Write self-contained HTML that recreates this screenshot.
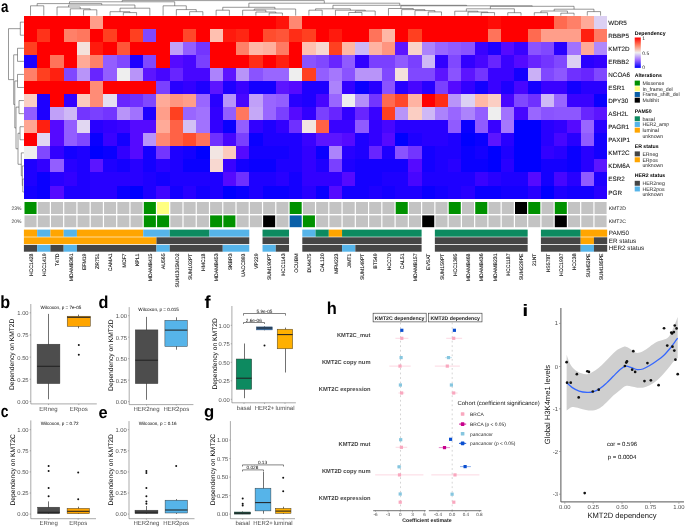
<!DOCTYPE html>
<html lang="en"><head><meta charset="utf-8"><title>Figure</title>
<style>html,body{margin:0;padding:0;background:#fff}body{width:685px;height:527px;overflow:hidden;font-family:"Liberation Sans",sans-serif}svg{display:block}</style>
</head><body>
<svg width="685" height="527" viewBox="0 0 685 527" font-family="'Liberation Sans', sans-serif" text-rendering="geometricPrecision">
<g shape-rendering="crispEdges">
<rect x="23.9" y="15.6" width="13.26" height="13.07" fill="#ff0000" />
<rect x="37.16" y="15.6" width="13.26" height="13.07" fill="#ff0000" />
<rect x="50.41" y="15.6" width="13.26" height="13.07" fill="#ff0000" />
<rect x="63.67" y="15.6" width="13.26" height="13.07" fill="#ff0000" />
<rect x="76.93" y="15.6" width="13.26" height="13.07" fill="#ff0000" />
<rect x="90.18" y="15.6" width="13.26" height="13.07" fill="#ff9e8a" />
<rect x="103.44" y="15.6" width="13.26" height="13.07" fill="#ff0000" />
<rect x="116.7" y="15.6" width="13.26" height="13.07" fill="#ff0000" />
<rect x="129.95" y="15.6" width="13.26" height="13.07" fill="#ff0000" />
<rect x="143.21" y="15.6" width="13.26" height="13.07" fill="#ff0000" />
<rect x="156.47" y="15.6" width="13.26" height="13.07" fill="#ff0000" />
<rect x="169.73" y="15.6" width="13.26" height="13.07" fill="#ff0000" />
<rect x="182.98" y="15.6" width="13.26" height="13.07" fill="#ff0000" />
<rect x="196.24" y="15.6" width="13.26" height="13.07" fill="#ff0000" />
<rect x="209.5" y="15.6" width="13.26" height="13.07" fill="#ff0000" />
<rect x="222.75" y="15.6" width="13.26" height="13.07" fill="#ff0000" />
<rect x="236.01" y="15.6" width="13.26" height="13.07" fill="#ff0000" />
<rect x="249.27" y="15.6" width="13.26" height="13.07" fill="#ff0000" />
<rect x="262.52" y="15.6" width="13.26" height="13.07" fill="#ff0000" />
<rect x="275.78" y="15.6" width="13.26" height="13.07" fill="#ff130a" />
<rect x="289.04" y="15.6" width="13.26" height="13.07" fill="#ff8872" />
<rect x="302.29" y="15.6" width="13.26" height="13.07" fill="#ff0000" />
<rect x="315.55" y="15.6" width="13.26" height="13.07" fill="#ff0000" />
<rect x="328.81" y="15.6" width="13.26" height="13.07" fill="#ff0000" />
<rect x="342.06" y="15.6" width="13.26" height="13.07" fill="#ff0000" />
<rect x="355.32" y="15.6" width="13.26" height="13.07" fill="#ff0000" />
<rect x="368.58" y="15.6" width="13.26" height="13.07" fill="#ff0000" />
<rect x="381.83" y="15.6" width="13.26" height="13.07" fill="#ff0000" />
<rect x="395.09" y="15.6" width="13.26" height="13.07" fill="#ff0000" />
<rect x="408.35" y="15.6" width="13.26" height="13.07" fill="#ff0000" />
<rect x="421.6" y="15.6" width="13.26" height="13.07" fill="#ff0000" />
<rect x="434.86" y="15.6" width="13.26" height="13.07" fill="#ff0000" />
<rect x="448.12" y="15.6" width="13.26" height="13.07" fill="#ff0000" />
<rect x="461.38" y="15.6" width="13.26" height="13.07" fill="#ff0000" />
<rect x="474.63" y="15.6" width="13.26" height="13.07" fill="#ff0000" />
<rect x="487.89" y="15.6" width="13.26" height="13.07" fill="#ff0d06" />
<rect x="501.15" y="15.6" width="13.26" height="13.07" fill="#ff0000" />
<rect x="514.4" y="15.6" width="13.26" height="13.07" fill="#ff0000" />
<rect x="527.66" y="15.6" width="13.26" height="13.07" fill="#ff0000" />
<rect x="540.92" y="15.6" width="13.26" height="13.07" fill="#ff0000" />
<rect x="554.17" y="15.6" width="13.26" height="13.07" fill="#ff6a50" />
<rect x="567.43" y="15.6" width="13.26" height="13.07" fill="#ff8068" />
<rect x="580.69" y="15.6" width="13.26" height="13.07" fill="#ffaa98" />
<rect x="593.94" y="15.6" width="13.26" height="13.07" fill="#dcd0f3" />
<rect x="23.9" y="28.67" width="13.26" height="13.07" fill="#ff0000" />
<rect x="37.16" y="28.67" width="13.26" height="13.07" fill="#ff331a" />
<rect x="50.41" y="28.67" width="13.26" height="13.07" fill="#ff0000" />
<rect x="63.67" y="28.67" width="13.26" height="13.07" fill="#ff8068" />
<rect x="76.93" y="28.67" width="13.26" height="13.07" fill="#ff775e" />
<rect x="90.18" y="28.67" width="13.26" height="13.07" fill="#ff0000" />
<rect x="103.44" y="28.67" width="13.26" height="13.07" fill="#ff4020" />
<rect x="116.7" y="28.67" width="13.26" height="13.07" fill="#ff0000" />
<rect x="129.95" y="28.67" width="13.26" height="13.07" fill="#ff4020" />
<rect x="143.21" y="28.67" width="13.26" height="13.07" fill="#8048ff" />
<rect x="156.47" y="28.67" width="13.26" height="13.07" fill="#ff0000" />
<rect x="169.73" y="28.67" width="13.26" height="13.07" fill="#ff0000" />
<rect x="182.98" y="28.67" width="13.26" height="13.07" fill="#ff482a" />
<rect x="196.24" y="28.67" width="13.26" height="13.07" fill="#ff0000" />
<rect x="209.5" y="28.67" width="13.26" height="13.07" fill="#ffc0b0" />
<rect x="222.75" y="28.67" width="13.26" height="13.07" fill="#ff1a0d" />
<rect x="236.01" y="28.67" width="13.26" height="13.07" fill="#ff2613" />
<rect x="249.27" y="28.67" width="13.26" height="13.07" fill="#ff0000" />
<rect x="262.52" y="28.67" width="13.26" height="13.07" fill="#ff4d2e" />
<rect x="275.78" y="28.67" width="13.26" height="13.07" fill="#ff5538" />
<rect x="289.04" y="28.67" width="13.26" height="13.07" fill="#ff2d16" />
<rect x="302.29" y="28.67" width="13.26" height="13.07" fill="#ff4020" />
<rect x="315.55" y="28.67" width="13.26" height="13.07" fill="#ff0000" />
<rect x="328.81" y="28.67" width="13.26" height="13.07" fill="#ff1a0d" />
<rect x="342.06" y="28.67" width="13.26" height="13.07" fill="#ff0000" />
<rect x="355.32" y="28.67" width="13.26" height="13.07" fill="#ff0000" />
<rect x="368.58" y="28.67" width="13.26" height="13.07" fill="#ff735a" />
<rect x="381.83" y="28.67" width="13.26" height="13.07" fill="#ffb7a6" />
<rect x="395.09" y="28.67" width="13.26" height="13.07" fill="#ff0000" />
<rect x="408.35" y="28.67" width="13.26" height="13.07" fill="#ff4020" />
<rect x="421.6" y="28.67" width="13.26" height="13.07" fill="#ff0000" />
<rect x="434.86" y="28.67" width="13.26" height="13.07" fill="#ff0000" />
<rect x="448.12" y="28.67" width="13.26" height="13.07" fill="#ff0000" />
<rect x="461.38" y="28.67" width="13.26" height="13.07" fill="#ff0000" />
<rect x="474.63" y="28.67" width="13.26" height="13.07" fill="#ff0000" />
<rect x="487.89" y="28.67" width="13.26" height="13.07" fill="#ff735a" />
<rect x="501.15" y="28.67" width="13.26" height="13.07" fill="#ff0000" />
<rect x="514.4" y="28.67" width="13.26" height="13.07" fill="#ff0000" />
<rect x="527.66" y="28.67" width="13.26" height="13.07" fill="#ff6a50" />
<rect x="540.92" y="28.67" width="13.26" height="13.07" fill="#ff9e8a" />
<rect x="554.17" y="28.67" width="13.26" height="13.07" fill="#ff9e8a" />
<rect x="567.43" y="28.67" width="13.26" height="13.07" fill="#ff9e8a" />
<rect x="580.69" y="28.67" width="13.26" height="13.07" fill="#ff2010" />
<rect x="593.94" y="28.67" width="13.26" height="13.07" fill="#ff7b63" />
<rect x="23.9" y="41.74" width="13.26" height="13.07" fill="#ff4020" />
<rect x="37.16" y="41.74" width="13.26" height="13.07" fill="#ff0000" />
<rect x="50.41" y="41.74" width="13.26" height="13.07" fill="#ff0000" />
<rect x="63.67" y="41.74" width="13.26" height="13.07" fill="#ff0000" />
<rect x="76.93" y="41.74" width="13.26" height="13.07" fill="#f4e1dc" />
<rect x="90.18" y="41.74" width="13.26" height="13.07" fill="#ff1a0d" />
<rect x="103.44" y="41.74" width="13.26" height="13.07" fill="#ff0000" />
<rect x="116.7" y="41.74" width="13.26" height="13.07" fill="#ff5538" />
<rect x="129.95" y="41.74" width="13.26" height="13.07" fill="#ff0000" />
<rect x="143.21" y="41.74" width="13.26" height="13.07" fill="#ff0000" />
<rect x="156.47" y="41.74" width="13.26" height="13.07" fill="#ff0000" />
<rect x="169.73" y="41.74" width="13.26" height="13.07" fill="#c0a0f8" />
<rect x="182.98" y="41.74" width="13.26" height="13.07" fill="#935eff" />
<rect x="196.24" y="41.74" width="13.26" height="13.07" fill="#7335ff" />
<rect x="209.5" y="41.74" width="13.26" height="13.07" fill="#ff0000" />
<rect x="222.75" y="41.74" width="13.26" height="13.07" fill="#ff0000" />
<rect x="236.01" y="41.74" width="13.26" height="13.07" fill="#ff8068" />
<rect x="249.27" y="41.74" width="13.26" height="13.07" fill="#ffb7a6" />
<rect x="262.52" y="41.74" width="13.26" height="13.07" fill="#ffaf9d" />
<rect x="275.78" y="41.74" width="13.26" height="13.07" fill="#ff7b63" />
<rect x="289.04" y="41.74" width="13.26" height="13.07" fill="#ff0000" />
<rect x="302.29" y="41.74" width="13.26" height="13.07" fill="#ffc0b0" />
<rect x="315.55" y="41.74" width="13.26" height="13.07" fill="#f8d8d0" />
<rect x="328.81" y="41.74" width="13.26" height="13.07" fill="#ff4020" />
<rect x="342.06" y="41.74" width="13.26" height="13.07" fill="#ffb7a6" />
<rect x="355.32" y="41.74" width="13.26" height="13.07" fill="#ceb8f6" />
<rect x="368.58" y="41.74" width="13.26" height="13.07" fill="#ffb3a2" />
<rect x="381.83" y="41.74" width="13.26" height="13.07" fill="#ff9580" />
<rect x="395.09" y="41.74" width="13.26" height="13.07" fill="#5c15ff" />
<rect x="408.35" y="41.74" width="13.26" height="13.07" fill="#f9d3ca" />
<rect x="421.6" y="41.74" width="13.26" height="13.07" fill="#ac83fc" />
<rect x="434.86" y="41.74" width="13.26" height="13.07" fill="#9966ff" />
<rect x="448.12" y="41.74" width="13.26" height="13.07" fill="#905bff" />
<rect x="461.38" y="41.74" width="13.26" height="13.07" fill="#8a53ff" />
<rect x="474.63" y="41.74" width="13.26" height="13.07" fill="#3902ff" />
<rect x="487.89" y="41.74" width="13.26" height="13.07" fill="#1e00ff" />
<rect x="501.15" y="41.74" width="13.26" height="13.07" fill="#550aff" />
<rect x="514.4" y="41.74" width="13.26" height="13.07" fill="#3902ff" />
<rect x="527.66" y="41.74" width="13.26" height="13.07" fill="#8a53ff" />
<rect x="540.92" y="41.74" width="13.26" height="13.07" fill="#8048ff" />
<rect x="554.17" y="41.74" width="13.26" height="13.07" fill="#2800ff" />
<rect x="567.43" y="41.74" width="13.26" height="13.07" fill="#a172fe" />
<rect x="580.69" y="41.74" width="13.26" height="13.07" fill="#ffaa98" />
<rect x="593.94" y="41.74" width="13.26" height="13.07" fill="#b089fb" />
<rect x="23.9" y="54.81" width="13.26" height="13.07" fill="#1e00ff" />
<rect x="37.16" y="54.81" width="13.26" height="13.07" fill="#ff0000" />
<rect x="50.41" y="54.81" width="13.26" height="13.07" fill="#ff735a" />
<rect x="63.67" y="54.81" width="13.26" height="13.07" fill="#ff0000" />
<rect x="76.93" y="54.81" width="13.26" height="13.07" fill="#ffaa98" />
<rect x="90.18" y="54.81" width="13.26" height="13.07" fill="#ff8068" />
<rect x="103.44" y="54.81" width="13.26" height="13.07" fill="#935eff" />
<rect x="116.7" y="54.81" width="13.26" height="13.07" fill="#8048ff" />
<rect x="129.95" y="54.81" width="13.26" height="13.07" fill="#1e00ff" />
<rect x="143.21" y="54.81" width="13.26" height="13.07" fill="#8048ff" />
<rect x="156.47" y="54.81" width="13.26" height="13.07" fill="#ff0000" />
<rect x="169.73" y="54.81" width="13.26" height="13.07" fill="#550aff" />
<rect x="182.98" y="54.81" width="13.26" height="13.07" fill="#4706ff" />
<rect x="196.24" y="54.81" width="13.26" height="13.07" fill="#7a40ff" />
<rect x="209.5" y="54.81" width="13.26" height="13.07" fill="#ff0000" />
<rect x="222.75" y="54.81" width="13.26" height="13.07" fill="#ff0000" />
<rect x="236.01" y="54.81" width="13.26" height="13.07" fill="#ff0000" />
<rect x="249.27" y="54.81" width="13.26" height="13.07" fill="#ff2d16" />
<rect x="262.52" y="54.81" width="13.26" height="13.07" fill="#ff0000" />
<rect x="275.78" y="54.81" width="13.26" height="13.07" fill="#ff2010" />
<rect x="289.04" y="54.81" width="13.26" height="13.07" fill="#ff0000" />
<rect x="302.29" y="54.81" width="13.26" height="13.07" fill="#8a53ff" />
<rect x="315.55" y="54.81" width="13.26" height="13.07" fill="#8048ff" />
<rect x="328.81" y="54.81" width="13.26" height="13.07" fill="#6825ff" />
<rect x="342.06" y="54.81" width="13.26" height="13.07" fill="#905bff" />
<rect x="355.32" y="54.81" width="13.26" height="13.07" fill="#3200ff" />
<rect x="368.58" y="54.81" width="13.26" height="13.07" fill="#7a40ff" />
<rect x="381.83" y="54.81" width="13.26" height="13.07" fill="#7a40ff" />
<rect x="395.09" y="54.81" width="13.26" height="13.07" fill="#905bff" />
<rect x="408.35" y="54.81" width="13.26" height="13.07" fill="#7a40ff" />
<rect x="421.6" y="54.81" width="13.26" height="13.07" fill="#ceb8f6" />
<rect x="434.86" y="54.81" width="13.26" height="13.07" fill="#3200ff" />
<rect x="448.12" y="54.81" width="13.26" height="13.07" fill="#8048ff" />
<rect x="461.38" y="54.81" width="13.26" height="13.07" fill="#3200ff" />
<rect x="474.63" y="54.81" width="13.26" height="13.07" fill="#4706ff" />
<rect x="487.89" y="54.81" width="13.26" height="13.07" fill="#6825ff" />
<rect x="501.15" y="54.81" width="13.26" height="13.07" fill="#3902ff" />
<rect x="514.4" y="54.81" width="13.26" height="13.07" fill="#550aff" />
<rect x="527.66" y="54.81" width="13.26" height="13.07" fill="#6825ff" />
<rect x="540.92" y="54.81" width="13.26" height="13.07" fill="#7335ff" />
<rect x="554.17" y="54.81" width="13.26" height="13.07" fill="#8048ff" />
<rect x="567.43" y="54.81" width="13.26" height="13.07" fill="#dcd0f3" />
<rect x="580.69" y="54.81" width="13.26" height="13.07" fill="#2800ff" />
<rect x="593.94" y="54.81" width="13.26" height="13.07" fill="#3200ff" />
<rect x="23.9" y="67.89" width="13.26" height="13.07" fill="#ff8068" />
<rect x="37.16" y="67.89" width="13.26" height="13.07" fill="#ff4020" />
<rect x="50.41" y="67.89" width="13.26" height="13.07" fill="#ff2010" />
<rect x="63.67" y="67.89" width="13.26" height="13.07" fill="#8048ff" />
<rect x="76.93" y="67.89" width="13.26" height="13.07" fill="#b894f9" />
<rect x="90.18" y="67.89" width="13.26" height="13.07" fill="#6825ff" />
<rect x="103.44" y="67.89" width="13.26" height="13.07" fill="#935eff" />
<rect x="116.7" y="67.89" width="13.26" height="13.07" fill="#eeeeee" />
<rect x="129.95" y="67.89" width="13.26" height="13.07" fill="#b894f9" />
<rect x="143.21" y="67.89" width="13.26" height="13.07" fill="#5c15ff" />
<rect x="156.47" y="67.89" width="13.26" height="13.07" fill="#4706ff" />
<rect x="169.73" y="67.89" width="13.26" height="13.07" fill="#6825ff" />
<rect x="182.98" y="67.89" width="13.26" height="13.07" fill="#4706ff" />
<rect x="196.24" y="67.89" width="13.26" height="13.07" fill="#4706ff" />
<rect x="209.5" y="67.89" width="13.26" height="13.07" fill="#ac83fc" />
<rect x="222.75" y="67.89" width="13.26" height="13.07" fill="#5c15ff" />
<rect x="236.01" y="67.89" width="13.26" height="13.07" fill="#b894f9" />
<rect x="249.27" y="67.89" width="13.26" height="13.07" fill="#8a53ff" />
<rect x="262.52" y="67.89" width="13.26" height="13.07" fill="#9966ff" />
<rect x="275.78" y="67.89" width="13.26" height="13.07" fill="#9966ff" />
<rect x="289.04" y="67.89" width="13.26" height="13.07" fill="#eeeeee" />
<rect x="302.29" y="67.89" width="13.26" height="13.07" fill="#ff4020" />
<rect x="315.55" y="67.89" width="13.26" height="13.07" fill="#935eff" />
<rect x="328.81" y="67.89" width="13.26" height="13.07" fill="#a577fd" />
<rect x="342.06" y="67.89" width="13.26" height="13.07" fill="#8a53ff" />
<rect x="355.32" y="67.89" width="13.26" height="13.07" fill="#b894f9" />
<rect x="368.58" y="67.89" width="13.26" height="13.07" fill="#b894f9" />
<rect x="381.83" y="67.89" width="13.26" height="13.07" fill="#8048ff" />
<rect x="395.09" y="67.89" width="13.26" height="13.07" fill="#f4e1dc" />
<rect x="408.35" y="67.89" width="13.26" height="13.07" fill="#8048ff" />
<rect x="421.6" y="67.89" width="13.26" height="13.07" fill="#8048ff" />
<rect x="434.86" y="67.89" width="13.26" height="13.07" fill="#5c15ff" />
<rect x="448.12" y="67.89" width="13.26" height="13.07" fill="#8a53ff" />
<rect x="461.38" y="67.89" width="13.26" height="13.07" fill="#5c15ff" />
<rect x="474.63" y="67.89" width="13.26" height="13.07" fill="#7335ff" />
<rect x="487.89" y="67.89" width="13.26" height="13.07" fill="#3902ff" />
<rect x="501.15" y="67.89" width="13.26" height="13.07" fill="#3902ff" />
<rect x="514.4" y="67.89" width="13.26" height="13.07" fill="#1400ff" />
<rect x="527.66" y="67.89" width="13.26" height="13.07" fill="#cab0f6" />
<rect x="540.92" y="67.89" width="13.26" height="13.07" fill="#8048ff" />
<rect x="554.17" y="67.89" width="13.26" height="13.07" fill="#8d57ff" />
<rect x="567.43" y="67.89" width="13.26" height="13.07" fill="#6f30ff" />
<rect x="580.69" y="67.89" width="13.26" height="13.07" fill="#6825ff" />
<rect x="593.94" y="67.89" width="13.26" height="13.07" fill="#8048ff" />
<rect x="23.9" y="80.96" width="13.26" height="13.07" fill="#ff0000" />
<rect x="37.16" y="80.96" width="13.26" height="13.07" fill="#ff0000" />
<rect x="50.41" y="80.96" width="13.26" height="13.07" fill="#ff0000" />
<rect x="63.67" y="80.96" width="13.26" height="13.07" fill="#ff0000" />
<rect x="76.93" y="80.96" width="13.26" height="13.07" fill="#ff0000" />
<rect x="90.18" y="80.96" width="13.26" height="13.07" fill="#ff8c76" />
<rect x="103.44" y="80.96" width="13.26" height="13.07" fill="#ff0000" />
<rect x="116.7" y="80.96" width="13.26" height="13.07" fill="#ff0000" />
<rect x="129.95" y="80.96" width="13.26" height="13.07" fill="#ff0000" />
<rect x="143.21" y="80.96" width="13.26" height="13.07" fill="#ff0000" />
<rect x="156.47" y="80.96" width="13.26" height="13.07" fill="#7a40ff" />
<rect x="169.73" y="80.96" width="13.26" height="13.07" fill="#2800ff" />
<rect x="182.98" y="80.96" width="13.26" height="13.07" fill="#3200ff" />
<rect x="196.24" y="80.96" width="13.26" height="13.07" fill="#1e00ff" />
<rect x="209.5" y="80.96" width="13.26" height="13.07" fill="#5c15ff" />
<rect x="222.75" y="80.96" width="13.26" height="13.07" fill="#1e00ff" />
<rect x="236.01" y="80.96" width="13.26" height="13.07" fill="#3902ff" />
<rect x="249.27" y="80.96" width="13.26" height="13.07" fill="#1400ff" />
<rect x="262.52" y="80.96" width="13.26" height="13.07" fill="#1400ff" />
<rect x="275.78" y="80.96" width="13.26" height="13.07" fill="#5c15ff" />
<rect x="289.04" y="80.96" width="13.26" height="13.07" fill="#550aff" />
<rect x="302.29" y="80.96" width="13.26" height="13.07" fill="#1e00ff" />
<rect x="315.55" y="80.96" width="13.26" height="13.07" fill="#1e00ff" />
<rect x="328.81" y="80.96" width="13.26" height="13.07" fill="#ac83fc" />
<rect x="342.06" y="80.96" width="13.26" height="13.07" fill="#3200ff" />
<rect x="355.32" y="80.96" width="13.26" height="13.07" fill="#0a00ff" />
<rect x="368.58" y="80.96" width="13.26" height="13.07" fill="#2800ff" />
<rect x="381.83" y="80.96" width="13.26" height="13.07" fill="#8a53ff" />
<rect x="395.09" y="80.96" width="13.26" height="13.07" fill="#2800ff" />
<rect x="408.35" y="80.96" width="13.26" height="13.07" fill="#4706ff" />
<rect x="421.6" y="80.96" width="13.26" height="13.07" fill="#2800ff" />
<rect x="434.86" y="80.96" width="13.26" height="13.07" fill="#7a40ff" />
<rect x="448.12" y="80.96" width="13.26" height="13.07" fill="#550aff" />
<rect x="461.38" y="80.96" width="13.26" height="13.07" fill="#3200ff" />
<rect x="474.63" y="80.96" width="13.26" height="13.07" fill="#1400ff" />
<rect x="487.89" y="80.96" width="13.26" height="13.07" fill="#3902ff" />
<rect x="501.15" y="80.96" width="13.26" height="13.07" fill="#1e00ff" />
<rect x="514.4" y="80.96" width="13.26" height="13.07" fill="#4706ff" />
<rect x="527.66" y="80.96" width="13.26" height="13.07" fill="#1400ff" />
<rect x="540.92" y="80.96" width="13.26" height="13.07" fill="#3902ff" />
<rect x="554.17" y="80.96" width="13.26" height="13.07" fill="#3902ff" />
<rect x="567.43" y="80.96" width="13.26" height="13.07" fill="#1400ff" />
<rect x="580.69" y="80.96" width="13.26" height="13.07" fill="#2800ff" />
<rect x="593.94" y="80.96" width="13.26" height="13.07" fill="#2800ff" />
<rect x="23.9" y="94.03" width="13.26" height="13.07" fill="#fbcec3" />
<rect x="37.16" y="94.03" width="13.26" height="13.07" fill="#1e00ff" />
<rect x="50.41" y="94.03" width="13.26" height="13.07" fill="#ff0000" />
<rect x="63.67" y="94.03" width="13.26" height="13.07" fill="#3200ff" />
<rect x="76.93" y="94.03" width="13.26" height="13.07" fill="#fccabd" />
<rect x="90.18" y="94.03" width="13.26" height="13.07" fill="#ff8c76" />
<rect x="103.44" y="94.03" width="13.26" height="13.07" fill="#e5dff0" />
<rect x="116.7" y="94.03" width="13.26" height="13.07" fill="#6825ff" />
<rect x="129.95" y="94.03" width="13.26" height="13.07" fill="#6f30ff" />
<rect x="143.21" y="94.03" width="13.26" height="13.07" fill="#8048ff" />
<rect x="156.47" y="94.03" width="13.26" height="13.07" fill="#ffaa98" />
<rect x="169.73" y="94.03" width="13.26" height="13.07" fill="#ff9580" />
<rect x="182.98" y="94.03" width="13.26" height="13.07" fill="#ff9e8a" />
<rect x="196.24" y="94.03" width="13.26" height="13.07" fill="#9966ff" />
<rect x="209.5" y="94.03" width="13.26" height="13.07" fill="#2800ff" />
<rect x="222.75" y="94.03" width="13.26" height="13.07" fill="#b894f9" />
<rect x="236.01" y="94.03" width="13.26" height="13.07" fill="#4706ff" />
<rect x="249.27" y="94.03" width="13.26" height="13.07" fill="#c0a0f8" />
<rect x="262.52" y="94.03" width="13.26" height="13.07" fill="#9966ff" />
<rect x="275.78" y="94.03" width="13.26" height="13.07" fill="#935eff" />
<rect x="289.04" y="94.03" width="13.26" height="13.07" fill="#2800ff" />
<rect x="302.29" y="94.03" width="13.26" height="13.07" fill="#1e00ff" />
<rect x="315.55" y="94.03" width="13.26" height="13.07" fill="#4706ff" />
<rect x="328.81" y="94.03" width="13.26" height="13.07" fill="#9966ff" />
<rect x="342.06" y="94.03" width="13.26" height="13.07" fill="#eeeeee" />
<rect x="355.32" y="94.03" width="13.26" height="13.07" fill="#b48ffa" />
<rect x="368.58" y="94.03" width="13.26" height="13.07" fill="#7335ff" />
<rect x="381.83" y="94.03" width="13.26" height="13.07" fill="#ff6a50" />
<rect x="395.09" y="94.03" width="13.26" height="13.07" fill="#ff482a" />
<rect x="408.35" y="94.03" width="13.26" height="13.07" fill="#ffb3a2" />
<rect x="421.6" y="94.03" width="13.26" height="13.07" fill="#ff0000" />
<rect x="434.86" y="94.03" width="13.26" height="13.07" fill="#ff2d16" />
<rect x="448.12" y="94.03" width="13.26" height="13.07" fill="#b894f9" />
<rect x="461.38" y="94.03" width="13.26" height="13.07" fill="#dcd0f3" />
<rect x="474.63" y="94.03" width="13.26" height="13.07" fill="#ffb7a6" />
<rect x="487.89" y="94.03" width="13.26" height="13.07" fill="#fbcec3" />
<rect x="501.15" y="94.03" width="13.26" height="13.07" fill="#4706ff" />
<rect x="514.4" y="94.03" width="13.26" height="13.07" fill="#8048ff" />
<rect x="527.66" y="94.03" width="13.26" height="13.07" fill="#6f30ff" />
<rect x="540.92" y="94.03" width="13.26" height="13.07" fill="#ceb8f6" />
<rect x="554.17" y="94.03" width="13.26" height="13.07" fill="#9966ff" />
<rect x="567.43" y="94.03" width="13.26" height="13.07" fill="#3902ff" />
<rect x="580.69" y="94.03" width="13.26" height="13.07" fill="#3902ff" />
<rect x="593.94" y="94.03" width="13.26" height="13.07" fill="#0a00ff" />
<rect x="23.9" y="107.1" width="13.26" height="13.07" fill="#935eff" />
<rect x="37.16" y="107.1" width="13.26" height="13.07" fill="#1e00ff" />
<rect x="50.41" y="107.1" width="13.26" height="13.07" fill="#c0a0f8" />
<rect x="63.67" y="107.1" width="13.26" height="13.07" fill="#ceb8f6" />
<rect x="76.93" y="107.1" width="13.26" height="13.07" fill="#7335ff" />
<rect x="90.18" y="107.1" width="13.26" height="13.07" fill="#7a40ff" />
<rect x="103.44" y="107.1" width="13.26" height="13.07" fill="#7335ff" />
<rect x="116.7" y="107.1" width="13.26" height="13.07" fill="#b894f9" />
<rect x="129.95" y="107.1" width="13.26" height="13.07" fill="#a172fe" />
<rect x="143.21" y="107.1" width="13.26" height="13.07" fill="#1e00ff" />
<rect x="156.47" y="107.1" width="13.26" height="13.07" fill="#ff9e8a" />
<rect x="169.73" y="107.1" width="13.26" height="13.07" fill="#ff4020" />
<rect x="182.98" y="107.1" width="13.26" height="13.07" fill="#9966ff" />
<rect x="196.24" y="107.1" width="13.26" height="13.07" fill="#a172fe" />
<rect x="209.5" y="107.1" width="13.26" height="13.07" fill="#3200ff" />
<rect x="222.75" y="107.1" width="13.26" height="13.07" fill="#935eff" />
<rect x="236.01" y="107.1" width="13.26" height="13.07" fill="#ff775e" />
<rect x="249.27" y="107.1" width="13.26" height="13.07" fill="#c5a8f7" />
<rect x="262.52" y="107.1" width="13.26" height="13.07" fill="#9966ff" />
<rect x="275.78" y="107.1" width="13.26" height="13.07" fill="#7a40ff" />
<rect x="289.04" y="107.1" width="13.26" height="13.07" fill="#550aff" />
<rect x="302.29" y="107.1" width="13.26" height="13.07" fill="#3200ff" />
<rect x="315.55" y="107.1" width="13.26" height="13.07" fill="#7a40ff" />
<rect x="328.81" y="107.1" width="13.26" height="13.07" fill="#6825ff" />
<rect x="342.06" y="107.1" width="13.26" height="13.07" fill="#3200ff" />
<rect x="355.32" y="107.1" width="13.26" height="13.07" fill="#6825ff" />
<rect x="368.58" y="107.1" width="13.26" height="13.07" fill="#3902ff" />
<rect x="381.83" y="107.1" width="13.26" height="13.07" fill="#ff4020" />
<rect x="395.09" y="107.1" width="13.26" height="13.07" fill="#b894f9" />
<rect x="408.35" y="107.1" width="13.26" height="13.07" fill="#fbcec3" />
<rect x="421.6" y="107.1" width="13.26" height="13.07" fill="#ceb8f6" />
<rect x="434.86" y="107.1" width="13.26" height="13.07" fill="#ac83fc" />
<rect x="448.12" y="107.1" width="13.26" height="13.07" fill="#9966ff" />
<rect x="461.38" y="107.1" width="13.26" height="13.07" fill="#ac83fc" />
<rect x="474.63" y="107.1" width="13.26" height="13.07" fill="#935eff" />
<rect x="487.89" y="107.1" width="13.26" height="13.07" fill="#eeeeee" />
<rect x="501.15" y="107.1" width="13.26" height="13.07" fill="#a172fe" />
<rect x="514.4" y="107.1" width="13.26" height="13.07" fill="#4706ff" />
<rect x="527.66" y="107.1" width="13.26" height="13.07" fill="#9966ff" />
<rect x="540.92" y="107.1" width="13.26" height="13.07" fill="#8a53ff" />
<rect x="554.17" y="107.1" width="13.26" height="13.07" fill="#8d57ff" />
<rect x="567.43" y="107.1" width="13.26" height="13.07" fill="#8d57ff" />
<rect x="580.69" y="107.1" width="13.26" height="13.07" fill="#6825ff" />
<rect x="593.94" y="107.1" width="13.26" height="13.07" fill="#5c15ff" />
<rect x="23.9" y="120.17" width="13.26" height="13.07" fill="#ffa693" />
<rect x="37.16" y="120.17" width="13.26" height="13.07" fill="#ff2010" />
<rect x="50.41" y="120.17" width="13.26" height="13.07" fill="#550aff" />
<rect x="63.67" y="120.17" width="13.26" height="13.07" fill="#935eff" />
<rect x="76.93" y="120.17" width="13.26" height="13.07" fill="#e1d7f2" />
<rect x="90.18" y="120.17" width="13.26" height="13.07" fill="#2800ff" />
<rect x="103.44" y="120.17" width="13.26" height="13.07" fill="#3200ff" />
<rect x="116.7" y="120.17" width="13.26" height="13.07" fill="#3902ff" />
<rect x="129.95" y="120.17" width="13.26" height="13.07" fill="#550aff" />
<rect x="143.21" y="120.17" width="13.26" height="13.07" fill="#550aff" />
<rect x="156.47" y="120.17" width="13.26" height="13.07" fill="#ffaa98" />
<rect x="169.73" y="120.17" width="13.26" height="13.07" fill="#ff6246" />
<rect x="182.98" y="120.17" width="13.26" height="13.07" fill="#d3c0f5" />
<rect x="196.24" y="120.17" width="13.26" height="13.07" fill="#a172fe" />
<rect x="209.5" y="120.17" width="13.26" height="13.07" fill="#3200ff" />
<rect x="222.75" y="120.17" width="13.26" height="13.07" fill="#0a00ff" />
<rect x="236.01" y="120.17" width="13.26" height="13.07" fill="#935eff" />
<rect x="249.27" y="120.17" width="13.26" height="13.07" fill="#3200ff" />
<rect x="262.52" y="120.17" width="13.26" height="13.07" fill="#1e00ff" />
<rect x="275.78" y="120.17" width="13.26" height="13.07" fill="#3200ff" />
<rect x="289.04" y="120.17" width="13.26" height="13.07" fill="#6f30ff" />
<rect x="302.29" y="120.17" width="13.26" height="13.07" fill="#f2e5e2" />
<rect x="315.55" y="120.17" width="13.26" height="13.07" fill="#ff6246" />
<rect x="328.81" y="120.17" width="13.26" height="13.07" fill="#3902ff" />
<rect x="342.06" y="120.17" width="13.26" height="13.07" fill="#3902ff" />
<rect x="355.32" y="120.17" width="13.26" height="13.07" fill="#905bff" />
<rect x="368.58" y="120.17" width="13.26" height="13.07" fill="#3200ff" />
<rect x="381.83" y="120.17" width="13.26" height="13.07" fill="#4706ff" />
<rect x="395.09" y="120.17" width="13.26" height="13.07" fill="#2800ff" />
<rect x="408.35" y="120.17" width="13.26" height="13.07" fill="#2800ff" />
<rect x="421.6" y="120.17" width="13.26" height="13.07" fill="#2800ff" />
<rect x="434.86" y="120.17" width="13.26" height="13.07" fill="#2800ff" />
<rect x="448.12" y="120.17" width="13.26" height="13.07" fill="#905bff" />
<rect x="461.38" y="120.17" width="13.26" height="13.07" fill="#0a00ff" />
<rect x="474.63" y="120.17" width="13.26" height="13.07" fill="#905bff" />
<rect x="487.89" y="120.17" width="13.26" height="13.07" fill="#3902ff" />
<rect x="501.15" y="120.17" width="13.26" height="13.07" fill="#a577fd" />
<rect x="514.4" y="120.17" width="13.26" height="13.07" fill="#0000ff" />
<rect x="527.66" y="120.17" width="13.26" height="13.07" fill="#0000ff" />
<rect x="540.92" y="120.17" width="13.26" height="13.07" fill="#2800ff" />
<rect x="554.17" y="120.17" width="13.26" height="13.07" fill="#3200ff" />
<rect x="567.43" y="120.17" width="13.26" height="13.07" fill="#550aff" />
<rect x="580.69" y="120.17" width="13.26" height="13.07" fill="#9966ff" />
<rect x="593.94" y="120.17" width="13.26" height="13.07" fill="#2800ff" />
<rect x="23.9" y="133.24" width="13.26" height="13.07" fill="#ff0000" />
<rect x="37.16" y="133.24" width="13.26" height="13.07" fill="#e1d7f2" />
<rect x="50.41" y="133.24" width="13.26" height="13.07" fill="#550aff" />
<rect x="63.67" y="133.24" width="13.26" height="13.07" fill="#935eff" />
<rect x="76.93" y="133.24" width="13.26" height="13.07" fill="#8048ff" />
<rect x="90.18" y="133.24" width="13.26" height="13.07" fill="#0a00ff" />
<rect x="103.44" y="133.24" width="13.26" height="13.07" fill="#3902ff" />
<rect x="116.7" y="133.24" width="13.26" height="13.07" fill="#1400ff" />
<rect x="129.95" y="133.24" width="13.26" height="13.07" fill="#550aff" />
<rect x="143.21" y="133.24" width="13.26" height="13.07" fill="#b894f9" />
<rect x="156.47" y="133.24" width="13.26" height="13.07" fill="#ff8872" />
<rect x="169.73" y="133.24" width="13.26" height="13.07" fill="#ff6246" />
<rect x="182.98" y="133.24" width="13.26" height="13.07" fill="#ff4d2e" />
<rect x="196.24" y="133.24" width="13.26" height="13.07" fill="#ff735a" />
<rect x="209.5" y="133.24" width="13.26" height="13.07" fill="#6f30ff" />
<rect x="222.75" y="133.24" width="13.26" height="13.07" fill="#4706ff" />
<rect x="236.01" y="133.24" width="13.26" height="13.07" fill="#7a40ff" />
<rect x="249.27" y="133.24" width="13.26" height="13.07" fill="#0a00ff" />
<rect x="262.52" y="133.24" width="13.26" height="13.07" fill="#1e00ff" />
<rect x="275.78" y="133.24" width="13.26" height="13.07" fill="#1e00ff" />
<rect x="289.04" y="133.24" width="13.26" height="13.07" fill="#1e00ff" />
<rect x="302.29" y="133.24" width="13.26" height="13.07" fill="#3902ff" />
<rect x="315.55" y="133.24" width="13.26" height="13.07" fill="#5c15ff" />
<rect x="328.81" y="133.24" width="13.26" height="13.07" fill="#5c15ff" />
<rect x="342.06" y="133.24" width="13.26" height="13.07" fill="#550aff" />
<rect x="355.32" y="133.24" width="13.26" height="13.07" fill="#1e00ff" />
<rect x="368.58" y="133.24" width="13.26" height="13.07" fill="#3200ff" />
<rect x="381.83" y="133.24" width="13.26" height="13.07" fill="#550aff" />
<rect x="395.09" y="133.24" width="13.26" height="13.07" fill="#0000ff" />
<rect x="408.35" y="133.24" width="13.26" height="13.07" fill="#1e00ff" />
<rect x="421.6" y="133.24" width="13.26" height="13.07" fill="#2800ff" />
<rect x="434.86" y="133.24" width="13.26" height="13.07" fill="#2800ff" />
<rect x="448.12" y="133.24" width="13.26" height="13.07" fill="#1e00ff" />
<rect x="461.38" y="133.24" width="13.26" height="13.07" fill="#0000ff" />
<rect x="474.63" y="133.24" width="13.26" height="13.07" fill="#0a00ff" />
<rect x="487.89" y="133.24" width="13.26" height="13.07" fill="#5c15ff" />
<rect x="501.15" y="133.24" width="13.26" height="13.07" fill="#2800ff" />
<rect x="514.4" y="133.24" width="13.26" height="13.07" fill="#0000ff" />
<rect x="527.66" y="133.24" width="13.26" height="13.07" fill="#0000ff" />
<rect x="540.92" y="133.24" width="13.26" height="13.07" fill="#2800ff" />
<rect x="554.17" y="133.24" width="13.26" height="13.07" fill="#4706ff" />
<rect x="567.43" y="133.24" width="13.26" height="13.07" fill="#2800ff" />
<rect x="580.69" y="133.24" width="13.26" height="13.07" fill="#905bff" />
<rect x="593.94" y="133.24" width="13.26" height="13.07" fill="#1400ff" />
<rect x="23.9" y="146.31" width="13.26" height="13.07" fill="#eeeeee" />
<rect x="37.16" y="146.31" width="13.26" height="13.07" fill="#8048ff" />
<rect x="50.41" y="146.31" width="13.26" height="13.07" fill="#3200ff" />
<rect x="63.67" y="146.31" width="13.26" height="13.07" fill="#1400ff" />
<rect x="76.93" y="146.31" width="13.26" height="13.07" fill="#1e00ff" />
<rect x="90.18" y="146.31" width="13.26" height="13.07" fill="#0000ff" />
<rect x="103.44" y="146.31" width="13.26" height="13.07" fill="#0a00ff" />
<rect x="116.7" y="146.31" width="13.26" height="13.07" fill="#3200ff" />
<rect x="129.95" y="146.31" width="13.26" height="13.07" fill="#550aff" />
<rect x="143.21" y="146.31" width="13.26" height="13.07" fill="#1400ff" />
<rect x="156.47" y="146.31" width="13.26" height="13.07" fill="#7335ff" />
<rect x="169.73" y="146.31" width="13.26" height="13.07" fill="#1e00ff" />
<rect x="182.98" y="146.31" width="13.26" height="13.07" fill="#1400ff" />
<rect x="196.24" y="146.31" width="13.26" height="13.07" fill="#0000ff" />
<rect x="209.5" y="146.31" width="13.26" height="13.07" fill="#f2e5e2" />
<rect x="222.75" y="146.31" width="13.26" height="13.07" fill="#fccabd" />
<rect x="236.01" y="146.31" width="13.26" height="13.07" fill="#550aff" />
<rect x="249.27" y="146.31" width="13.26" height="13.07" fill="#1400ff" />
<rect x="262.52" y="146.31" width="13.26" height="13.07" fill="#1400ff" />
<rect x="275.78" y="146.31" width="13.26" height="13.07" fill="#1400ff" />
<rect x="289.04" y="146.31" width="13.26" height="13.07" fill="#1e00ff" />
<rect x="302.29" y="146.31" width="13.26" height="13.07" fill="#3200ff" />
<rect x="315.55" y="146.31" width="13.26" height="13.07" fill="#0a00ff" />
<rect x="328.81" y="146.31" width="13.26" height="13.07" fill="#ac83fc" />
<rect x="342.06" y="146.31" width="13.26" height="13.07" fill="#2800ff" />
<rect x="355.32" y="146.31" width="13.26" height="13.07" fill="#1e00ff" />
<rect x="368.58" y="146.31" width="13.26" height="13.07" fill="#6825ff" />
<rect x="381.83" y="146.31" width="13.26" height="13.07" fill="#1e00ff" />
<rect x="395.09" y="146.31" width="13.26" height="13.07" fill="#8a53ff" />
<rect x="408.35" y="146.31" width="13.26" height="13.07" fill="#7335ff" />
<rect x="421.6" y="146.31" width="13.26" height="13.07" fill="#1400ff" />
<rect x="434.86" y="146.31" width="13.26" height="13.07" fill="#1e00ff" />
<rect x="448.12" y="146.31" width="13.26" height="13.07" fill="#1e00ff" />
<rect x="461.38" y="146.31" width="13.26" height="13.07" fill="#0a00ff" />
<rect x="474.63" y="146.31" width="13.26" height="13.07" fill="#1400ff" />
<rect x="487.89" y="146.31" width="13.26" height="13.07" fill="#0000ff" />
<rect x="501.15" y="146.31" width="13.26" height="13.07" fill="#1e00ff" />
<rect x="514.4" y="146.31" width="13.26" height="13.07" fill="#0000ff" />
<rect x="527.66" y="146.31" width="13.26" height="13.07" fill="#0000ff" />
<rect x="540.92" y="146.31" width="13.26" height="13.07" fill="#3200ff" />
<rect x="554.17" y="146.31" width="13.26" height="13.07" fill="#2800ff" />
<rect x="567.43" y="146.31" width="13.26" height="13.07" fill="#0a00ff" />
<rect x="580.69" y="146.31" width="13.26" height="13.07" fill="#2800ff" />
<rect x="593.94" y="146.31" width="13.26" height="13.07" fill="#1400ff" />
<rect x="23.9" y="159.39" width="13.26" height="13.07" fill="#1e00ff" />
<rect x="37.16" y="159.39" width="13.26" height="13.07" fill="#3200ff" />
<rect x="50.41" y="159.39" width="13.26" height="13.07" fill="#935eff" />
<rect x="63.67" y="159.39" width="13.26" height="13.07" fill="#2800ff" />
<rect x="76.93" y="159.39" width="13.26" height="13.07" fill="#1e00ff" />
<rect x="90.18" y="159.39" width="13.26" height="13.07" fill="#5c15ff" />
<rect x="103.44" y="159.39" width="13.26" height="13.07" fill="#1e00ff" />
<rect x="116.7" y="159.39" width="13.26" height="13.07" fill="#1400ff" />
<rect x="129.95" y="159.39" width="13.26" height="13.07" fill="#2800ff" />
<rect x="143.21" y="159.39" width="13.26" height="13.07" fill="#1400ff" />
<rect x="156.47" y="159.39" width="13.26" height="13.07" fill="#2800ff" />
<rect x="169.73" y="159.39" width="13.26" height="13.07" fill="#1e00ff" />
<rect x="182.98" y="159.39" width="13.26" height="13.07" fill="#0a00ff" />
<rect x="196.24" y="159.39" width="13.26" height="13.07" fill="#0a00ff" />
<rect x="209.5" y="159.39" width="13.26" height="13.07" fill="#f8d8d0" />
<rect x="222.75" y="159.39" width="13.26" height="13.07" fill="#3902ff" />
<rect x="236.01" y="159.39" width="13.26" height="13.07" fill="#1400ff" />
<rect x="249.27" y="159.39" width="13.26" height="13.07" fill="#0a00ff" />
<rect x="262.52" y="159.39" width="13.26" height="13.07" fill="#0a00ff" />
<rect x="275.78" y="159.39" width="13.26" height="13.07" fill="#1e00ff" />
<rect x="289.04" y="159.39" width="13.26" height="13.07" fill="#1e00ff" />
<rect x="302.29" y="159.39" width="13.26" height="13.07" fill="#3200ff" />
<rect x="315.55" y="159.39" width="13.26" height="13.07" fill="#1e00ff" />
<rect x="328.81" y="159.39" width="13.26" height="13.07" fill="#7a40ff" />
<rect x="342.06" y="159.39" width="13.26" height="13.07" fill="#1e00ff" />
<rect x="355.32" y="159.39" width="13.26" height="13.07" fill="#1400ff" />
<rect x="368.58" y="159.39" width="13.26" height="13.07" fill="#1400ff" />
<rect x="381.83" y="159.39" width="13.26" height="13.07" fill="#1400ff" />
<rect x="395.09" y="159.39" width="13.26" height="13.07" fill="#1400ff" />
<rect x="408.35" y="159.39" width="13.26" height="13.07" fill="#550aff" />
<rect x="421.6" y="159.39" width="13.26" height="13.07" fill="#1400ff" />
<rect x="434.86" y="159.39" width="13.26" height="13.07" fill="#1e00ff" />
<rect x="448.12" y="159.39" width="13.26" height="13.07" fill="#2800ff" />
<rect x="461.38" y="159.39" width="13.26" height="13.07" fill="#0a00ff" />
<rect x="474.63" y="159.39" width="13.26" height="13.07" fill="#0a00ff" />
<rect x="487.89" y="159.39" width="13.26" height="13.07" fill="#0000ff" />
<rect x="501.15" y="159.39" width="13.26" height="13.07" fill="#2800ff" />
<rect x="514.4" y="159.39" width="13.26" height="13.07" fill="#0000ff" />
<rect x="527.66" y="159.39" width="13.26" height="13.07" fill="#0000ff" />
<rect x="540.92" y="159.39" width="13.26" height="13.07" fill="#1400ff" />
<rect x="554.17" y="159.39" width="13.26" height="13.07" fill="#1400ff" />
<rect x="567.43" y="159.39" width="13.26" height="13.07" fill="#0a00ff" />
<rect x="580.69" y="159.39" width="13.26" height="13.07" fill="#2800ff" />
<rect x="593.94" y="159.39" width="13.26" height="13.07" fill="#5c15ff" />
<rect x="23.9" y="172.46" width="13.26" height="13.07" fill="#1e00ff" />
<rect x="37.16" y="172.46" width="13.26" height="13.07" fill="#0a00ff" />
<rect x="50.41" y="172.46" width="13.26" height="13.07" fill="#2800ff" />
<rect x="63.67" y="172.46" width="13.26" height="13.07" fill="#3200ff" />
<rect x="76.93" y="172.46" width="13.26" height="13.07" fill="#1e00ff" />
<rect x="90.18" y="172.46" width="13.26" height="13.07" fill="#2800ff" />
<rect x="103.44" y="172.46" width="13.26" height="13.07" fill="#2800ff" />
<rect x="116.7" y="172.46" width="13.26" height="13.07" fill="#2800ff" />
<rect x="129.95" y="172.46" width="13.26" height="13.07" fill="#2800ff" />
<rect x="143.21" y="172.46" width="13.26" height="13.07" fill="#1e00ff" />
<rect x="156.47" y="172.46" width="13.26" height="13.07" fill="#1400ff" />
<rect x="169.73" y="172.46" width="13.26" height="13.07" fill="#1e00ff" />
<rect x="182.98" y="172.46" width="13.26" height="13.07" fill="#1e00ff" />
<rect x="196.24" y="172.46" width="13.26" height="13.07" fill="#1e00ff" />
<rect x="209.5" y="172.46" width="13.26" height="13.07" fill="#1e00ff" />
<rect x="222.75" y="172.46" width="13.26" height="13.07" fill="#550aff" />
<rect x="236.01" y="172.46" width="13.26" height="13.07" fill="#6f30ff" />
<rect x="249.27" y="172.46" width="13.26" height="13.07" fill="#1e00ff" />
<rect x="262.52" y="172.46" width="13.26" height="13.07" fill="#1e00ff" />
<rect x="275.78" y="172.46" width="13.26" height="13.07" fill="#2800ff" />
<rect x="289.04" y="172.46" width="13.26" height="13.07" fill="#1400ff" />
<rect x="302.29" y="172.46" width="13.26" height="13.07" fill="#3200ff" />
<rect x="315.55" y="172.46" width="13.26" height="13.07" fill="#3200ff" />
<rect x="328.81" y="172.46" width="13.26" height="13.07" fill="#3200ff" />
<rect x="342.06" y="172.46" width="13.26" height="13.07" fill="#550aff" />
<rect x="355.32" y="172.46" width="13.26" height="13.07" fill="#1400ff" />
<rect x="368.58" y="172.46" width="13.26" height="13.07" fill="#1400ff" />
<rect x="381.83" y="172.46" width="13.26" height="13.07" fill="#1e00ff" />
<rect x="395.09" y="172.46" width="13.26" height="13.07" fill="#1e00ff" />
<rect x="408.35" y="172.46" width="13.26" height="13.07" fill="#4706ff" />
<rect x="421.6" y="172.46" width="13.26" height="13.07" fill="#1e00ff" />
<rect x="434.86" y="172.46" width="13.26" height="13.07" fill="#1e00ff" />
<rect x="448.12" y="172.46" width="13.26" height="13.07" fill="#1e00ff" />
<rect x="461.38" y="172.46" width="13.26" height="13.07" fill="#1e00ff" />
<rect x="474.63" y="172.46" width="13.26" height="13.07" fill="#3902ff" />
<rect x="487.89" y="172.46" width="13.26" height="13.07" fill="#2800ff" />
<rect x="501.15" y="172.46" width="13.26" height="13.07" fill="#1e00ff" />
<rect x="514.4" y="172.46" width="13.26" height="13.07" fill="#1e00ff" />
<rect x="527.66" y="172.46" width="13.26" height="13.07" fill="#550aff" />
<rect x="540.92" y="172.46" width="13.26" height="13.07" fill="#1400ff" />
<rect x="554.17" y="172.46" width="13.26" height="13.07" fill="#4706ff" />
<rect x="567.43" y="172.46" width="13.26" height="13.07" fill="#2800ff" />
<rect x="580.69" y="172.46" width="13.26" height="13.07" fill="#905bff" />
<rect x="593.94" y="172.46" width="13.26" height="13.07" fill="#1e00ff" />
<rect x="23.9" y="185.53" width="13.26" height="13.07" fill="#1400ff" />
<rect x="37.16" y="185.53" width="13.26" height="13.07" fill="#0a00ff" />
<rect x="50.41" y="185.53" width="13.26" height="13.07" fill="#550aff" />
<rect x="63.67" y="185.53" width="13.26" height="13.07" fill="#1e00ff" />
<rect x="76.93" y="185.53" width="13.26" height="13.07" fill="#1e00ff" />
<rect x="90.18" y="185.53" width="13.26" height="13.07" fill="#2800ff" />
<rect x="103.44" y="185.53" width="13.26" height="13.07" fill="#2800ff" />
<rect x="116.7" y="185.53" width="13.26" height="13.07" fill="#0a00ff" />
<rect x="129.95" y="185.53" width="13.26" height="13.07" fill="#0000ff" />
<rect x="143.21" y="185.53" width="13.26" height="13.07" fill="#1e00ff" />
<rect x="156.47" y="185.53" width="13.26" height="13.07" fill="#4004ff" />
<rect x="169.73" y="185.53" width="13.26" height="13.07" fill="#1400ff" />
<rect x="182.98" y="185.53" width="13.26" height="13.07" fill="#2800ff" />
<rect x="196.24" y="185.53" width="13.26" height="13.07" fill="#1400ff" />
<rect x="209.5" y="185.53" width="13.26" height="13.07" fill="#1e00ff" />
<rect x="222.75" y="185.53" width="13.26" height="13.07" fill="#0000ff" />
<rect x="236.01" y="185.53" width="13.26" height="13.07" fill="#0a00ff" />
<rect x="249.27" y="185.53" width="13.26" height="13.07" fill="#1e00ff" />
<rect x="262.52" y="185.53" width="13.26" height="13.07" fill="#0a00ff" />
<rect x="275.78" y="185.53" width="13.26" height="13.07" fill="#0a00ff" />
<rect x="289.04" y="185.53" width="13.26" height="13.07" fill="#1400ff" />
<rect x="302.29" y="185.53" width="13.26" height="13.07" fill="#2800ff" />
<rect x="315.55" y="185.53" width="13.26" height="13.07" fill="#0a00ff" />
<rect x="328.81" y="185.53" width="13.26" height="13.07" fill="#550aff" />
<rect x="342.06" y="185.53" width="13.26" height="13.07" fill="#1400ff" />
<rect x="355.32" y="185.53" width="13.26" height="13.07" fill="#1400ff" />
<rect x="368.58" y="185.53" width="13.26" height="13.07" fill="#1e00ff" />
<rect x="381.83" y="185.53" width="13.26" height="13.07" fill="#1400ff" />
<rect x="395.09" y="185.53" width="13.26" height="13.07" fill="#1e00ff" />
<rect x="408.35" y="185.53" width="13.26" height="13.07" fill="#1e00ff" />
<rect x="421.6" y="185.53" width="13.26" height="13.07" fill="#0a00ff" />
<rect x="434.86" y="185.53" width="13.26" height="13.07" fill="#1400ff" />
<rect x="448.12" y="185.53" width="13.26" height="13.07" fill="#1e00ff" />
<rect x="461.38" y="185.53" width="13.26" height="13.07" fill="#2800ff" />
<rect x="474.63" y="185.53" width="13.26" height="13.07" fill="#0a00ff" />
<rect x="487.89" y="185.53" width="13.26" height="13.07" fill="#0a00ff" />
<rect x="501.15" y="185.53" width="13.26" height="13.07" fill="#1400ff" />
<rect x="514.4" y="185.53" width="13.26" height="13.07" fill="#1400ff" />
<rect x="527.66" y="185.53" width="13.26" height="13.07" fill="#2800ff" />
<rect x="540.92" y="185.53" width="13.26" height="13.07" fill="#0000ff" />
<rect x="554.17" y="185.53" width="13.26" height="13.07" fill="#1e00ff" />
<rect x="567.43" y="185.53" width="13.26" height="13.07" fill="#1400ff" />
<rect x="580.69" y="185.53" width="13.26" height="13.07" fill="#1400ff" />
<rect x="593.94" y="185.53" width="13.26" height="13.07" fill="#2800ff" />
</g>
<text x="608.3" y="24.64" font-size="6.3" text-anchor="start" font-weight="normal" fill="#111" stroke="#111" stroke-width="0.08">WDR5</text>
<text x="608.3" y="37.71" font-size="6.3" text-anchor="start" font-weight="normal" fill="#111" stroke="#111" stroke-width="0.08">RBBP5</text>
<text x="608.3" y="50.78" font-size="6.3" text-anchor="start" font-weight="normal" fill="#111" stroke="#111" stroke-width="0.08">KMT2D</text>
<text x="608.3" y="63.85" font-size="6.3" text-anchor="start" font-weight="normal" fill="#111" stroke="#111" stroke-width="0.08">ERBB2</text>
<text x="608.3" y="76.92" font-size="6.3" text-anchor="start" font-weight="normal" fill="#111" stroke="#111" stroke-width="0.08">NCOA6</text>
<text x="608.3" y="89.99" font-size="6.3" text-anchor="start" font-weight="normal" fill="#111" stroke="#111" stroke-width="0.08">ESR1</text>
<text x="608.3" y="103.06" font-size="6.3" text-anchor="start" font-weight="normal" fill="#111" stroke="#111" stroke-width="0.08">DPY30</text>
<text x="608.3" y="116.14" font-size="6.3" text-anchor="start" font-weight="normal" fill="#111" stroke="#111" stroke-width="0.08">ASH2L</text>
<text x="608.3" y="129.21" font-size="6.3" text-anchor="start" font-weight="normal" fill="#111" stroke="#111" stroke-width="0.08">PAGR1</text>
<text x="608.3" y="142.28" font-size="6.3" text-anchor="start" font-weight="normal" fill="#111" stroke="#111" stroke-width="0.08">PAXIP1</text>
<text x="608.3" y="155.35" font-size="6.3" text-anchor="start" font-weight="normal" fill="#111" stroke="#111" stroke-width="0.08">KMT2C</text>
<text x="608.3" y="168.42" font-size="6.3" text-anchor="start" font-weight="normal" fill="#111" stroke="#111" stroke-width="0.08">KDM6A</text>
<text x="608.3" y="181.49" font-size="6.3" text-anchor="start" font-weight="normal" fill="#111" stroke="#111" stroke-width="0.08">ESR2</text>
<text x="608.3" y="194.56" font-size="6.3" text-anchor="start" font-weight="normal" fill="#111" stroke="#111" stroke-width="0.08">PGR</text>
<path d="M30.53 15.6V5.8H43.79V15.6" fill="none" stroke="#444" stroke-width="0.55"/>
<path d="M83.56 15.6V9.8H96.81V15.6" fill="none" stroke="#444" stroke-width="0.55"/>
<path d="M70.3 15.6V8.8H90.18V9.8" fill="none" stroke="#444" stroke-width="0.55"/>
<path d="M57.04 15.6V7H80.24V8.8" fill="none" stroke="#444" stroke-width="0.55"/>
<path d="M123.33 15.6V12.6H136.58V15.6" fill="none" stroke="#444" stroke-width="0.55"/>
<path d="M110.07 15.6V11.7H129.95V12.6" fill="none" stroke="#444" stroke-width="0.55"/>
<path d="M120.01 11.7V8.2H149.84V15.6" fill="none" stroke="#444" stroke-width="0.55"/>
<path d="M68.64 7V5H134.93V8.2" fill="none" stroke="#444" stroke-width="0.55"/>
<path d="M37.16 5.8V3.6H101.78V5" fill="none" stroke="#444" stroke-width="0.55"/>
<path d="M189.61 15.6V11.7H202.87V15.6" fill="none" stroke="#444" stroke-width="0.55"/>
<path d="M176.35 15.6V9.6H196.24V11.7" fill="none" stroke="#444" stroke-width="0.55"/>
<path d="M163.1 15.6V5.8H186.3V9.6" fill="none" stroke="#444" stroke-width="0.55"/>
<path d="M69.47 3.6V1.8H174.7V5.8" fill="none" stroke="#444" stroke-width="0.55"/>
<path d="M216.12 15.6V10.2H229.38V15.6" fill="none" stroke="#444" stroke-width="0.55"/>
<path d="M269.15 15.6V13H282.41V15.6" fill="none" stroke="#444" stroke-width="0.55"/>
<path d="M255.89 15.6V12H275.78V13" fill="none" stroke="#444" stroke-width="0.55"/>
<path d="M242.64 15.6V10.2H265.84V12" fill="none" stroke="#444" stroke-width="0.55"/>
<path d="M254.24 10.2V9H295.66V15.6" fill="none" stroke="#444" stroke-width="0.55"/>
<path d="M222.75 10.2V7.3H274.95V9" fill="none" stroke="#444" stroke-width="0.55"/>
<path d="M308.92 15.6V10.2H322.18V15.6" fill="none" stroke="#444" stroke-width="0.55"/>
<path d="M348.69 15.6V12.5H361.95V15.6" fill="none" stroke="#444" stroke-width="0.55"/>
<path d="M355.32 12.5V11H375.21V15.6" fill="none" stroke="#444" stroke-width="0.55"/>
<path d="M335.44 15.6V10.2H365.26V11" fill="none" stroke="#444" stroke-width="0.55"/>
<path d="M315.55 10.2V8.8H350.35V10.2" fill="none" stroke="#444" stroke-width="0.55"/>
<path d="M428.23 15.6V11.9H441.49V15.6" fill="none" stroke="#444" stroke-width="0.55"/>
<path d="M414.98 15.6V10.6H434.86V11.9" fill="none" stroke="#444" stroke-width="0.55"/>
<path d="M401.72 15.6V9.6H424.92V10.6" fill="none" stroke="#444" stroke-width="0.55"/>
<path d="M388.46 15.6V8.5H413.32V9.6" fill="none" stroke="#444" stroke-width="0.55"/>
<path d="M481.26 15.6V12.6H494.52V15.6" fill="none" stroke="#444" stroke-width="0.55"/>
<path d="M468 15.6V12H487.89V12.6" fill="none" stroke="#444" stroke-width="0.55"/>
<path d="M454.75 15.6V11.2H477.95V12" fill="none" stroke="#444" stroke-width="0.55"/>
<path d="M507.77 15.6V12.7H521.03V15.6" fill="none" stroke="#444" stroke-width="0.55"/>
<path d="M466.35 11.2V8.8H514.4V12.7" fill="none" stroke="#444" stroke-width="0.55"/>
<path d="M534.29 15.6V12.7H547.54V15.6" fill="none" stroke="#444" stroke-width="0.55"/>
<path d="M560.8 15.6V13.2H574.06V15.6" fill="none" stroke="#444" stroke-width="0.55"/>
<path d="M540.92 12.7V11H567.43V13.2" fill="none" stroke="#444" stroke-width="0.55"/>
<path d="M587.31 15.6V11.6H600.57V15.6" fill="none" stroke="#444" stroke-width="0.55"/>
<path d="M554.17 11V9.2H593.94V11.6" fill="none" stroke="#444" stroke-width="0.55"/>
<path d="M490.37 8.8V6.3H574.06V9.2" fill="none" stroke="#444" stroke-width="0.55"/>
<path d="M400.89 8.5V5.8H532.22V6.3" fill="none" stroke="#444" stroke-width="0.55"/>
<path d="M332.95 8.8V5.3H466.55V5.8" fill="none" stroke="#444" stroke-width="0.55"/>
<path d="M248.85 7.3V3.2H399.75V5.3" fill="none" stroke="#444" stroke-width="0.55"/>
<path d="M122.08 1.8V0.6H324.3V3.2" fill="none" stroke="#444" stroke-width="0.55"/>
<path d="M23.9 22.14H20.3V35.21H23.9" fill="none" stroke="#444" stroke-width="0.55"/>
<path d="M23.9 48.28H17.5V61.35H23.9" fill="none" stroke="#444" stroke-width="0.55"/>
<path d="M23.9 74.42H17.5V87.49H23.9" fill="none" stroke="#444" stroke-width="0.55"/>
<path d="M23.9 100.56H19V113.64H23.9" fill="none" stroke="#444" stroke-width="0.55"/>
<path d="M23.9 126.71H20V139.78H23.9" fill="none" stroke="#444" stroke-width="0.55"/>
<path d="M23.9 178.99H22.8V192.06H23.9" fill="none" stroke="#444" stroke-width="0.55"/>
<path d="M23.9 165.92H22.3V185.53H22.8" fill="none" stroke="#444" stroke-width="0.55"/>
<path d="M23.9 152.85H21.3V175.72H22.3" fill="none" stroke="#444" stroke-width="0.55"/>
<path d="M20 133.24H18V164.29H21.3" fill="none" stroke="#444" stroke-width="0.55"/>
<path d="M19 107.1H16V148.77H18" fill="none" stroke="#444" stroke-width="0.55"/>
<path d="M17.5 80.96H14.8V127.93H16" fill="none" stroke="#444" stroke-width="0.55"/>
<path d="M17.5 54.81H13.7V104.44H14.8" fill="none" stroke="#444" stroke-width="0.55"/>
<path d="M20.3 28.67H8.5V79.63H13.7" fill="none" stroke="#444" stroke-width="0.55"/>
<rect x="24.5" y="202" width="12.06" height="12" fill="#009100" />
<rect x="37.76" y="202" width="12.06" height="12" fill="#c3c3c3" />
<rect x="51.01" y="202" width="12.06" height="12" fill="#c3c3c3" />
<rect x="64.27" y="202" width="12.06" height="12" fill="#c3c3c3" />
<rect x="77.53" y="202" width="12.06" height="12" fill="#c3c3c3" />
<rect x="90.78" y="202" width="12.06" height="12" fill="#c3c3c3" />
<rect x="104.04" y="202" width="12.06" height="12" fill="#c3c3c3" />
<rect x="117.3" y="202" width="12.06" height="12" fill="#c3c3c3" />
<rect x="130.55" y="202" width="12.06" height="12" fill="#c3c3c3" />
<rect x="143.81" y="202" width="12.06" height="12" fill="#009100" />
<rect x="157.07" y="202" width="12.06" height="12" fill="#ffff80" />
<rect x="170.33" y="202" width="12.06" height="12" fill="#c3c3c3" />
<rect x="183.58" y="202" width="12.06" height="12" fill="#c3c3c3" />
<rect x="196.84" y="202" width="12.06" height="12" fill="#c3c3c3" />
<rect x="210.1" y="202" width="12.06" height="12" fill="#c3c3c3" />
<rect x="223.35" y="202" width="12.06" height="12" fill="#c3c3c3" />
<rect x="236.61" y="202" width="12.06" height="12" fill="#c3c3c3" />
<rect x="249.87" y="202" width="12.06" height="12" fill="#c3c3c3" />
<rect x="263.12" y="202" width="12.06" height="12" fill="#c3c3c3" />
<rect x="276.38" y="202" width="12.06" height="12" fill="#c3c3c3" />
<rect x="289.64" y="202" width="12.06" height="12" fill="#009100" />
<rect x="302.89" y="202" width="12.06" height="12" fill="#c3c3c3" />
<rect x="316.15" y="202" width="12.06" height="12" fill="#c3c3c3" />
<rect x="329.41" y="202" width="12.06" height="12" fill="#c3c3c3" />
<rect x="342.66" y="202" width="12.06" height="12" fill="#c3c3c3" />
<rect x="355.92" y="202" width="12.06" height="12" fill="#c3c3c3" />
<rect x="369.18" y="202" width="12.06" height="12" fill="#c3c3c3" />
<rect x="382.43" y="202" width="12.06" height="12" fill="#c3c3c3" />
<rect x="395.69" y="202" width="12.06" height="12" fill="#009100" />
<rect x="408.95" y="202" width="12.06" height="12" fill="#c3c3c3" />
<rect x="422.2" y="202" width="12.06" height="12" fill="#c3c3c3" />
<rect x="435.46" y="202" width="12.06" height="12" fill="#c3c3c3" />
<rect x="448.72" y="202" width="12.06" height="12" fill="#009100" />
<rect x="461.98" y="202" width="12.06" height="12" fill="#c3c3c3" />
<rect x="475.23" y="202" width="12.06" height="12" fill="#009100" />
<rect x="488.49" y="202" width="12.06" height="12" fill="#c3c3c3" />
<rect x="501.75" y="202" width="12.06" height="12" fill="#c3c3c3" />
<rect x="515" y="202" width="12.06" height="12" fill="#000000" />
<rect x="528.26" y="202" width="12.06" height="12" fill="#009100" />
<rect x="541.52" y="202" width="12.06" height="12" fill="#c3c3c3" />
<rect x="554.77" y="202" width="12.06" height="12" fill="#009100" />
<rect x="568.03" y="202" width="12.06" height="12" fill="#c3c3c3" />
<rect x="581.29" y="202" width="12.06" height="12" fill="#c3c3c3" />
<rect x="594.54" y="202" width="12.06" height="12" fill="#c3c3c3" />
<rect x="24.5" y="215.4" width="12.06" height="11.8" fill="#c3c3c3" />
<rect x="37.76" y="215.4" width="12.06" height="11.8" fill="#c3c3c3" />
<rect x="51.01" y="215.4" width="12.06" height="11.8" fill="#c3c3c3" />
<rect x="64.27" y="215.4" width="12.06" height="11.8" fill="#c3c3c3" />
<rect x="77.53" y="215.4" width="12.06" height="11.8" fill="#c3c3c3" />
<rect x="90.78" y="215.4" width="12.06" height="11.8" fill="#c3c3c3" />
<rect x="104.04" y="215.4" width="12.06" height="11.8" fill="#c3c3c3" />
<rect x="117.3" y="215.4" width="12.06" height="11.8" fill="#c3c3c3" />
<rect x="130.55" y="215.4" width="12.06" height="11.8" fill="#c3c3c3" />
<rect x="143.81" y="215.4" width="12.06" height="11.8" fill="#009100" />
<rect x="157.07" y="215.4" width="12.06" height="11.8" fill="#009100" />
<rect x="170.33" y="215.4" width="12.06" height="11.8" fill="#c3c3c3" />
<rect x="183.58" y="215.4" width="12.06" height="11.8" fill="#c3c3c3" />
<rect x="196.84" y="215.4" width="12.06" height="11.8" fill="#c3c3c3" />
<rect x="210.1" y="215.4" width="12.06" height="11.8" fill="#009100" />
<rect x="223.35" y="215.4" width="12.06" height="11.8" fill="#009100" />
<rect x="236.61" y="215.4" width="12.06" height="11.8" fill="#c3c3c3" />
<rect x="249.87" y="215.4" width="12.06" height="11.8" fill="#c3c3c3" />
<rect x="263.12" y="215.4" width="12.06" height="11.8" fill="#000000" />
<rect x="276.38" y="215.4" width="12.06" height="11.8" fill="#c3c3c3" />
<rect x="289.64" y="215.4" width="12.06" height="11.8" fill="#0a5fa8" />
<rect x="302.89" y="215.4" width="12.06" height="11.8" fill="#009100" />
<rect x="316.15" y="215.4" width="12.06" height="11.8" fill="#c3c3c3" />
<rect x="329.41" y="215.4" width="12.06" height="11.8" fill="#c3c3c3" />
<rect x="342.66" y="215.4" width="12.06" height="11.8" fill="#c3c3c3" />
<rect x="355.92" y="215.4" width="12.06" height="11.8" fill="#c3c3c3" />
<rect x="369.18" y="215.4" width="12.06" height="11.8" fill="#c3c3c3" />
<rect x="382.43" y="215.4" width="12.06" height="11.8" fill="#c3c3c3" />
<rect x="395.69" y="215.4" width="12.06" height="11.8" fill="#c3c3c3" />
<rect x="408.95" y="215.4" width="12.06" height="11.8" fill="#c3c3c3" />
<rect x="422.2" y="215.4" width="12.06" height="11.8" fill="#000000" />
<rect x="435.46" y="215.4" width="12.06" height="11.8" fill="#c3c3c3" />
<rect x="448.72" y="215.4" width="12.06" height="11.8" fill="#c3c3c3" />
<rect x="461.98" y="215.4" width="12.06" height="11.8" fill="#c3c3c3" />
<rect x="475.23" y="215.4" width="12.06" height="11.8" fill="#c3c3c3" />
<rect x="488.49" y="215.4" width="12.06" height="11.8" fill="#c3c3c3" />
<rect x="501.75" y="215.4" width="12.06" height="11.8" fill="#c3c3c3" />
<rect x="515" y="215.4" width="12.06" height="11.8" fill="#c3c3c3" />
<rect x="528.26" y="215.4" width="12.06" height="11.8" fill="#c3c3c3" />
<rect x="541.52" y="215.4" width="12.06" height="11.8" fill="#c3c3c3" />
<rect x="554.77" y="215.4" width="12.06" height="11.8" fill="#000000" />
<rect x="568.03" y="215.4" width="12.06" height="11.8" fill="#c3c3c3" />
<rect x="581.29" y="215.4" width="12.06" height="11.8" fill="#c3c3c3" />
<rect x="594.54" y="215.4" width="12.06" height="11.8" fill="#c3c3c3" />
<text x="21.5" y="210" font-size="5" text-anchor="end" font-weight="normal" fill="#333" >23%</text>
<text x="21.5" y="223.2" font-size="5" text-anchor="end" font-weight="normal" fill="#333" >20%</text>
<text x="608.7" y="210.1" font-size="5.1" text-anchor="start" font-weight="normal" fill="#111" >KMT2D</text>
<text x="608.7" y="223.4" font-size="5.1" text-anchor="start" font-weight="normal" fill="#111" >KMT2C</text>
<rect x="23.9" y="229.6" width="13.26" height="7.1" fill="#ffa500" />
<rect x="37.16" y="229.6" width="13.26" height="7.1" fill="#56b4e9" />
<rect x="50.41" y="229.6" width="13.26" height="7.1" fill="#ffa500" />
<rect x="63.67" y="229.6" width="13.26" height="7.1" fill="#56b4e9" />
<rect x="76.93" y="229.6" width="66.28" height="7.1" fill="#ffa500" />
<rect x="143.21" y="229.6" width="26.51" height="7.1" fill="#56b4e9" />
<rect x="169.73" y="229.6" width="39.77" height="7.1" fill="#0d8a60" />
<rect x="209.5" y="229.6" width="39.77" height="7.1" fill="#56b4e9" />
<rect x="262.52" y="229.6" width="26.51" height="7.1" fill="#0d8a60" />
<rect x="302.29" y="229.6" width="13.26" height="7.1" fill="#56b4e9" />
<rect x="315.55" y="229.6" width="13.26" height="7.1" fill="#0d8a60" />
<rect x="328.81" y="229.6" width="13.26" height="7.1" fill="#ffa500" />
<rect x="342.06" y="229.6" width="79.54" height="7.1" fill="#0d8a60" />
<rect x="434.86" y="229.6" width="92.8" height="7.1" fill="#0d8a60" />
<rect x="540.92" y="229.6" width="39.77" height="7.1" fill="#0d8a60" />
<rect x="580.69" y="229.6" width="26.51" height="7.1" fill="#ffa500" />
<rect x="23.9" y="237.3" width="132.57" height="6.8" fill="#ffa500" />
<rect x="156.47" y="237.3" width="92.8" height="6.8" fill="#454545" />
<rect x="262.52" y="237.3" width="26.51" height="6.8" fill="#454545" />
<rect x="302.29" y="237.3" width="119.31" height="6.8" fill="#454545" />
<rect x="434.86" y="237.3" width="92.8" height="6.8" fill="#454545" />
<rect x="540.92" y="237.3" width="39.77" height="6.8" fill="#454545" />
<rect x="580.69" y="237.3" width="13.26" height="6.8" fill="#ffa500" />
<rect x="593.94" y="237.3" width="13.26" height="6.8" fill="#454545" />
<rect x="23.9" y="244.9" width="13.26" height="6.8" fill="#454545" />
<rect x="37.16" y="244.9" width="13.26" height="6.8" fill="#56b4e9" />
<rect x="50.41" y="244.9" width="13.26" height="6.8" fill="#454545" />
<rect x="63.67" y="244.9" width="13.26" height="6.8" fill="#56b4e9" />
<rect x="76.93" y="244.9" width="79.54" height="6.8" fill="#454545" />
<rect x="156.47" y="244.9" width="13.26" height="6.8" fill="#56b4e9" />
<rect x="169.73" y="244.9" width="53.03" height="6.8" fill="#454545" />
<rect x="222.75" y="244.9" width="26.51" height="6.8" fill="#56b4e9" />
<rect x="262.52" y="244.9" width="13.26" height="6.8" fill="#56b4e9" />
<rect x="275.78" y="244.9" width="13.26" height="6.8" fill="#454545" />
<rect x="302.29" y="244.9" width="39.77" height="6.8" fill="#454545" />
<rect x="342.06" y="244.9" width="13.26" height="6.8" fill="#56b4e9" />
<rect x="355.32" y="244.9" width="66.28" height="6.8" fill="#454545" />
<rect x="434.86" y="244.9" width="92.8" height="6.8" fill="#454545" />
<rect x="540.92" y="244.9" width="39.77" height="6.8" fill="#454545" />
<rect x="580.69" y="244.9" width="13.26" height="6.8" fill="#56b4e9" />
<rect x="593.94" y="244.9" width="13.26" height="6.8" fill="#454545" />
<text x="608.8" y="235.1" font-size="6.3" text-anchor="start" font-weight="normal" fill="#111" >PAM50</text>
<text x="608.8" y="243" font-size="6.3" text-anchor="start" font-weight="normal" fill="#111" >ER status</text>
<text x="608.8" y="250.3" font-size="6.3" text-anchor="start" font-weight="normal" fill="#111" >HER2 status</text>
<text x="32.73" y="253.5" font-size="5.15" text-anchor="end" font-weight="normal" fill="#111" transform="rotate(-90 32.73 253.5)" stroke="#111" stroke-width="0.1">HCC1428</text>
<text x="45.99" y="253.5" font-size="5.15" text-anchor="end" font-weight="normal" fill="#111" transform="rotate(-90 45.99 253.5)" stroke="#111" stroke-width="0.1">HCC1419</text>
<text x="59.24" y="253.5" font-size="5.15" text-anchor="end" font-weight="normal" fill="#111" transform="rotate(-90 59.24 253.5)" stroke="#111" stroke-width="0.1">T47D</text>
<text x="72.5" y="253.5" font-size="5.15" text-anchor="end" font-weight="normal" fill="#111" transform="rotate(-90 72.5 253.5)" stroke="#111" stroke-width="0.1">MDAMB361</text>
<text x="85.76" y="253.5" font-size="5.15" text-anchor="end" font-weight="normal" fill="#111" transform="rotate(-90 85.76 253.5)" stroke="#111" stroke-width="0.1">EFM19</text>
<text x="99.01" y="253.5" font-size="5.15" text-anchor="end" font-weight="normal" fill="#111" transform="rotate(-90 99.01 253.5)" stroke="#111" stroke-width="0.1">ZR751</text>
<text x="112.27" y="253.5" font-size="5.15" text-anchor="end" font-weight="normal" fill="#111" transform="rotate(-90 112.27 253.5)" stroke="#111" stroke-width="0.1">CAMA1</text>
<text x="125.53" y="253.5" font-size="5.15" text-anchor="end" font-weight="normal" fill="#111" transform="rotate(-90 125.53 253.5)" stroke="#111" stroke-width="0.1">MCF7</text>
<text x="138.78" y="253.5" font-size="5.15" text-anchor="end" font-weight="normal" fill="#111" transform="rotate(-90 138.78 253.5)" stroke="#111" stroke-width="0.1">KPL1</text>
<text x="152.04" y="253.5" font-size="5.15" text-anchor="end" font-weight="normal" fill="#111" transform="rotate(-90 152.04 253.5)" stroke="#111" stroke-width="0.1">MDAMB415</text>
<text x="165.3" y="253.5" font-size="5.15" text-anchor="end" font-weight="normal" fill="#111" transform="rotate(-90 165.3 253.5)" stroke="#111" stroke-width="0.1">AU565</text>
<text x="178.55" y="253.5" font-size="5.15" text-anchor="end" font-weight="normal" fill="#111" transform="rotate(-90 178.55 253.5)" stroke="#111" stroke-width="0.1">SUM1315MO2</text>
<text x="191.81" y="253.5" font-size="5.15" text-anchor="end" font-weight="normal" fill="#111" transform="rotate(-90 191.81 253.5)" stroke="#111" stroke-width="0.1">SUM102PT</text>
<text x="205.07" y="253.5" font-size="5.15" text-anchor="end" font-weight="normal" fill="#111" transform="rotate(-90 205.07 253.5)" stroke="#111" stroke-width="0.1">HMC18</text>
<text x="218.32" y="253.5" font-size="5.15" text-anchor="end" font-weight="normal" fill="#111" transform="rotate(-90 218.32 253.5)" stroke="#111" stroke-width="0.1">MDAMB453</text>
<text x="231.58" y="253.5" font-size="5.15" text-anchor="end" font-weight="normal" fill="#111" transform="rotate(-90 231.58 253.5)" stroke="#111" stroke-width="0.1">SKBR3</text>
<text x="244.84" y="253.5" font-size="5.15" text-anchor="end" font-weight="normal" fill="#111" transform="rotate(-90 244.84 253.5)" stroke="#111" stroke-width="0.1">UACC893</text>
<text x="258.09" y="253.5" font-size="5.15" text-anchor="end" font-weight="normal" fill="#111" transform="rotate(-90 258.09 253.5)" stroke="#111" stroke-width="0.1">VP229</text>
<text x="271.35" y="253.5" font-size="5.15" text-anchor="end" font-weight="normal" fill="#111" transform="rotate(-90 271.35 253.5)" stroke="#111" stroke-width="0.1">SUM190PT</text>
<text x="284.61" y="253.5" font-size="5.15" text-anchor="end" font-weight="normal" fill="#111" transform="rotate(-90 284.61 253.5)" stroke="#111" stroke-width="0.1">HCC1143</text>
<text x="297.86" y="253.5" font-size="5.15" text-anchor="end" font-weight="normal" fill="#111" transform="rotate(-90 297.86 253.5)" stroke="#111" stroke-width="0.1">OCUBM</text>
<text x="311.12" y="253.5" font-size="5.15" text-anchor="end" font-weight="normal" fill="#111" transform="rotate(-90 311.12 253.5)" stroke="#111" stroke-width="0.1">DU4475</text>
<text x="324.38" y="253.5" font-size="5.15" text-anchor="end" font-weight="normal" fill="#111" transform="rotate(-90 324.38 253.5)" stroke="#111" stroke-width="0.1">CAL120</text>
<text x="337.64" y="253.5" font-size="5.15" text-anchor="end" font-weight="normal" fill="#111" transform="rotate(-90 337.64 253.5)" stroke="#111" stroke-width="0.1">MFM223</text>
<text x="350.89" y="253.5" font-size="5.15" text-anchor="end" font-weight="normal" fill="#111" transform="rotate(-90 350.89 253.5)" stroke="#111" stroke-width="0.1">JIMT1</text>
<text x="364.15" y="253.5" font-size="5.15" text-anchor="end" font-weight="normal" fill="#111" transform="rotate(-90 364.15 253.5)" stroke="#111" stroke-width="0.1">SUM149PT</text>
<text x="377.41" y="253.5" font-size="5.15" text-anchor="end" font-weight="normal" fill="#111" transform="rotate(-90 377.41 253.5)" stroke="#111" stroke-width="0.1">BT549</text>
<text x="390.66" y="253.5" font-size="5.15" text-anchor="end" font-weight="normal" fill="#111" transform="rotate(-90 390.66 253.5)" stroke="#111" stroke-width="0.1">HCC70</text>
<text x="403.92" y="253.5" font-size="5.15" text-anchor="end" font-weight="normal" fill="#111" transform="rotate(-90 403.92 253.5)" stroke="#111" stroke-width="0.1">CAL51</text>
<text x="417.18" y="253.5" font-size="5.15" text-anchor="end" font-weight="normal" fill="#111" transform="rotate(-90 417.18 253.5)" stroke="#111" stroke-width="0.1">MDAMB157</text>
<text x="430.43" y="253.5" font-size="5.15" text-anchor="end" font-weight="normal" fill="#111" transform="rotate(-90 430.43 253.5)" stroke="#111" stroke-width="0.1">EVSAT</text>
<text x="443.69" y="253.5" font-size="5.15" text-anchor="end" font-weight="normal" fill="#111" transform="rotate(-90 443.69 253.5)" stroke="#111" stroke-width="0.1">SUM159PT</text>
<text x="456.95" y="253.5" font-size="5.15" text-anchor="end" font-weight="normal" fill="#111" transform="rotate(-90 456.95 253.5)" stroke="#111" stroke-width="0.1">HCC1395</text>
<text x="470.2" y="253.5" font-size="5.15" text-anchor="end" font-weight="normal" fill="#111" transform="rotate(-90 470.2 253.5)" stroke="#111" stroke-width="0.1">MDAMB468</text>
<text x="483.46" y="253.5" font-size="5.15" text-anchor="end" font-weight="normal" fill="#111" transform="rotate(-90 483.46 253.5)" stroke="#111" stroke-width="0.1">MDAMB436</text>
<text x="496.72" y="253.5" font-size="5.15" text-anchor="end" font-weight="normal" fill="#111" transform="rotate(-90 496.72 253.5)" stroke="#111" stroke-width="0.1">MDAMB231</text>
<text x="509.97" y="253.5" font-size="5.15" text-anchor="end" font-weight="normal" fill="#111" transform="rotate(-90 509.97 253.5)" stroke="#111" stroke-width="0.1">HCC1187</text>
<text x="523.23" y="253.5" font-size="5.15" text-anchor="end" font-weight="normal" fill="#111" transform="rotate(-90 523.23 253.5)" stroke="#111" stroke-width="0.1">SUM229PE</text>
<text x="536.49" y="253.5" font-size="5.15" text-anchor="end" font-weight="normal" fill="#111" transform="rotate(-90 536.49 253.5)" stroke="#111" stroke-width="0.1">21NT</text>
<text x="549.74" y="253.5" font-size="5.15" text-anchor="end" font-weight="normal" fill="#111" transform="rotate(-90 549.74 253.5)" stroke="#111" stroke-width="0.1">HS578T</text>
<text x="563" y="253.5" font-size="5.15" text-anchor="end" font-weight="normal" fill="#111" transform="rotate(-90 563 253.5)" stroke="#111" stroke-width="0.1">HCC1937</text>
<text x="576.26" y="253.5" font-size="5.15" text-anchor="end" font-weight="normal" fill="#111" transform="rotate(-90 576.26 253.5)" stroke="#111" stroke-width="0.1">HCC38</text>
<text x="589.51" y="253.5" font-size="5.15" text-anchor="end" font-weight="normal" fill="#111" transform="rotate(-90 589.51 253.5)" stroke="#111" stroke-width="0.1">SUM52PE</text>
<text x="602.77" y="253.5" font-size="5.15" text-anchor="end" font-weight="normal" fill="#111" transform="rotate(-90 602.77 253.5)" stroke="#111" stroke-width="0.1">SUM185PE</text>
<text x="634.7" y="34.85" font-size="5.2" text-anchor="start" font-weight="bold" fill="#000" >Dependency</text>
<defs><linearGradient id="dep" x1="0" y1="0" x2="0" y2="1"><stop offset="0" stop-color="#ff0000"/><stop offset="0.25" stop-color="#ff8060"/><stop offset="0.5" stop-color="#eeeeee"/><stop offset="0.75" stop-color="#9966ff"/><stop offset="1" stop-color="#0000ff"/></linearGradient></defs>
<rect x="634.7" y="37.5" width="6.1" height="30.4" fill="url(#dep)" />
<text x="642.3" y="40" font-size="5" text-anchor="start" font-weight="normal" fill="#222" >1</text>
<text x="642.3" y="54.5" font-size="4.9" text-anchor="start" font-weight="normal" fill="#222" >0.5</text>
<text x="642.3" y="68.8" font-size="4.9" text-anchor="start" font-weight="normal" fill="#222" >0</text>
<text x="634.7" y="77.25" font-size="5.2" text-anchor="start" font-weight="bold" fill="#000" >Alterations</text>
<rect x="634.7" y="80.6" width="5.2" height="4.95" fill="#009100" />
<text x="642.4" y="84.8" font-size="5.2" text-anchor="start" font-weight="normal" fill="#222" >Missense</text>
<rect x="634.7" y="86.3" width="5.2" height="4.95" fill="#ffff80" />
<text x="642.4" y="90.5" font-size="5.2" text-anchor="start" font-weight="normal" fill="#222" >In_frame_del</text>
<rect x="634.7" y="92" width="5.2" height="4.95" fill="#0a5fa8" />
<text x="642.4" y="96.2" font-size="5.2" text-anchor="start" font-weight="normal" fill="#222" >Frame_shift_del</text>
<rect x="634.7" y="97.7" width="5.2" height="4.95" fill="#000" />
<text x="642.4" y="101.9" font-size="5.2" text-anchor="start" font-weight="normal" fill="#222" >Multihit</text>
<text x="634.7" y="112.55" font-size="5.2" text-anchor="start" font-weight="bold" fill="#000" >PAM50</text>
<rect x="634.7" y="116.3" width="5.2" height="4.95" fill="#0d8a60" />
<text x="642.4" y="120.5" font-size="5.2" text-anchor="start" font-weight="normal" fill="#222" >basal</text>
<rect x="634.7" y="122" width="5.2" height="4.95" fill="#56b4e9" />
<text x="642.4" y="126.2" font-size="5.2" text-anchor="start" font-weight="normal" fill="#222" >HER2_amp</text>
<rect x="634.7" y="127.7" width="5.2" height="4.95" fill="#ffa500" />
<text x="642.4" y="131.9" font-size="5.2" text-anchor="start" font-weight="normal" fill="#222" >luminal</text>
<text x="642.4" y="137.6" font-size="5.2" text-anchor="start" font-weight="normal" fill="#222" >unknown</text>
<text x="634.7" y="147.85" font-size="5.2" text-anchor="start" font-weight="bold" fill="#000" >ER status</text>
<rect x="634.7" y="151.4" width="5.2" height="4.95" fill="#454545" />
<text x="642.4" y="155.6" font-size="5.2" text-anchor="start" font-weight="normal" fill="#222" >ERneg</text>
<rect x="634.7" y="157.3" width="5.2" height="4.95" fill="#ffa500" />
<text x="642.4" y="161.5" font-size="5.2" text-anchor="start" font-weight="normal" fill="#222" >ERpos</text>
<text x="642.4" y="167.2" font-size="5.2" text-anchor="start" font-weight="normal" fill="#222" >unknown</text>
<text x="634.7" y="177.25" font-size="5.2" text-anchor="start" font-weight="bold" fill="#000" >HER2 status</text>
<rect x="634.7" y="180.8" width="5.2" height="4.95" fill="#454545" />
<text x="642.4" y="185" font-size="5.2" text-anchor="start" font-weight="normal" fill="#222" >HER2neg</text>
<rect x="634.7" y="186.5" width="5.2" height="4.95" fill="#56b4e9" />
<text x="642.4" y="190.7" font-size="5.2" text-anchor="start" font-weight="normal" fill="#222" >HER2pos</text>
<text x="642.4" y="196.4" font-size="5.2" text-anchor="start" font-weight="normal" fill="#222" >unknown</text>
<text transform="translate(0.95 12.14) scale(0.8392 1.0046)" x="0" y="0" font-size="16" font-weight="bold" fill="#000">a</text>
<text transform="translate(0.2 307.52) scale(1.0087 1.0969)" x="0" y="0" font-size="16" font-weight="bold" fill="#000">b</text>
<text transform="translate(0.7 417.48) scale(0.8654 1.0674)" x="0" y="0" font-size="16" font-weight="bold" fill="#000">c</text>
<text transform="translate(98.45 307.83) scale(1.0149 1.0799)" x="0" y="0" font-size="16" font-weight="bold" fill="#000">d</text>
<text transform="translate(98.45 417.93) scale(1.0233 1.0388)" x="0" y="0" font-size="16" font-weight="bold" fill="#000">e</text>
<text transform="translate(204.48 307.5) scale(1.1417 1.0948)" x="0" y="0" font-size="16" font-weight="bold" fill="#000">f</text>
<text transform="translate(203.88 417.19) scale(1.0458 1.0333)" x="0" y="0" font-size="16" font-weight="bold" fill="#000">g</text>
<text transform="translate(326.75 314.4) scale(1.0286 1.0776)" x="0" y="0" font-size="16" font-weight="bold" fill="#000">h</text>
<text transform="translate(522.27 316.1) scale(1.3636 1.0345)" x="0" y="0" font-size="16" font-weight="bold" fill="#000">i</text>
<path d="M30.8 304V403.9H96.8" fill="none" stroke="#555" stroke-width="0.5"/>
<line x1="29.6" y1="401.4" x2="30.8" y2="401.4" stroke="#555" stroke-width="0.4" />
<text x="28.6" y="403.8" font-size="5.8" text-anchor="end" font-weight="normal" fill="#4d4d4d" >0.00</text>
<line x1="29.6" y1="379.25" x2="30.8" y2="379.25" stroke="#555" stroke-width="0.4" />
<text x="28.6" y="381.65" font-size="5.8" text-anchor="end" font-weight="normal" fill="#4d4d4d" >0.25</text>
<line x1="29.6" y1="357.1" x2="30.8" y2="357.1" stroke="#555" stroke-width="0.4" />
<text x="28.6" y="359.5" font-size="5.8" text-anchor="end" font-weight="normal" fill="#4d4d4d" >0.50</text>
<line x1="29.6" y1="334.95" x2="30.8" y2="334.95" stroke="#555" stroke-width="0.4" />
<text x="28.6" y="337.35" font-size="5.8" text-anchor="end" font-weight="normal" fill="#4d4d4d" >0.75</text>
<line x1="29.6" y1="312.8" x2="30.8" y2="312.8" stroke="#555" stroke-width="0.4" />
<text x="28.6" y="315.2" font-size="5.8" text-anchor="end" font-weight="normal" fill="#4d4d4d" >1.00</text>
<text x="14.1" y="354.3" font-size="6.7" text-anchor="middle" font-weight="normal" fill="#000" transform="rotate(-90 14.1 354.3)" >Dependency on KMT2D</text>
<text x="60.9" y="308.7" font-size="4.6" text-anchor="middle" font-weight="normal" fill="#000" >Wilcoxon, p = 7e-05</text>
<line x1="48.5" y1="313.9" x2="48.5" y2="399.3" stroke="#333" stroke-width="0.7" />
<rect x="37.1" y="344.2" width="22.8" height="39.4" fill="#4d4d4d" stroke="#333" stroke-width="0.45" />
<line x1="37.1" y1="366.3" x2="59.9" y2="366.3" stroke="#222" stroke-width="1.05" />
<line x1="78.5" y1="314.6" x2="78.5" y2="328.3" stroke="#333" stroke-width="0.7" />
<rect x="67.2" y="316.2" width="23.2" height="10.2" fill="#ffa500" stroke="#333" stroke-width="0.45" />
<line x1="67.2" y1="317.3" x2="90.4" y2="317.3" stroke="#222" stroke-width="1.05" />
<circle cx="78.8" cy="344.9" r="1" fill="#111"/>
<circle cx="78.8" cy="354.7" r="1" fill="#111"/>
<line x1="48.5" y1="403.9" x2="48.5" y2="405.1" stroke="#555" stroke-width="0.4" />
<line x1="78.8" y1="403.9" x2="78.8" y2="405.1" stroke="#555" stroke-width="0.4" />
<text x="48.5" y="410.8" font-size="6" text-anchor="middle" font-weight="normal" fill="#4d4d4d" >ERneg</text>
<text x="78.8" y="410.8" font-size="6" text-anchor="middle" font-weight="normal" fill="#4d4d4d" >ERpos</text>
<path d="M129.2 307.1V404.6H193.4" fill="none" stroke="#555" stroke-width="0.5"/>
<line x1="128" y1="401.6" x2="129.2" y2="401.6" stroke="#555" stroke-width="0.4" />
<text x="127" y="404" font-size="5.8" text-anchor="end" font-weight="normal" fill="#4d4d4d" >0.00</text>
<line x1="128" y1="380.12" x2="129.2" y2="380.12" stroke="#555" stroke-width="0.4" />
<text x="127" y="382.52" font-size="5.8" text-anchor="end" font-weight="normal" fill="#4d4d4d" >0.25</text>
<line x1="128" y1="358.65" x2="129.2" y2="358.65" stroke="#555" stroke-width="0.4" />
<text x="127" y="361.05" font-size="5.8" text-anchor="end" font-weight="normal" fill="#4d4d4d" >0.50</text>
<line x1="128" y1="337.18" x2="129.2" y2="337.18" stroke="#555" stroke-width="0.4" />
<text x="127" y="339.57" font-size="5.8" text-anchor="end" font-weight="normal" fill="#4d4d4d" >0.75</text>
<line x1="128" y1="315.7" x2="129.2" y2="315.7" stroke="#555" stroke-width="0.4" />
<text x="127" y="318.1" font-size="5.8" text-anchor="end" font-weight="normal" fill="#4d4d4d" >1.00</text>
<text x="112.8" y="355.2" font-size="6.7" text-anchor="middle" font-weight="normal" fill="#000" transform="rotate(-90 112.8 355.2)" >Dependency on KMT2D</text>
<text x="158.6" y="311.4" font-size="4.6" text-anchor="middle" font-weight="normal" fill="#000" >Wilcoxon, p = 0.015</text>
<line x1="146.5" y1="316.9" x2="146.5" y2="399.8" stroke="#333" stroke-width="0.7" />
<rect x="135.3" y="329.9" width="22.6" height="53.7" fill="#4d4d4d" stroke="#333" stroke-width="0.45" />
<line x1="135.3" y1="360.2" x2="157.9" y2="360.2" stroke="#222" stroke-width="1.05" />
<line x1="176.5" y1="317.3" x2="176.5" y2="349.7" stroke="#333" stroke-width="0.7" />
<rect x="164.9" y="320.3" width="22.4" height="26.2" fill="#56b4e9" stroke="#333" stroke-width="0.45" />
<line x1="164.9" y1="330.1" x2="187.3" y2="330.1" stroke="#222" stroke-width="1.05" />
<line x1="146.5" y1="404.6" x2="146.5" y2="405.8" stroke="#555" stroke-width="0.4" />
<line x1="176.3" y1="404.6" x2="176.3" y2="405.8" stroke="#555" stroke-width="0.4" />
<text x="146.5" y="410.8" font-size="6" text-anchor="middle" font-weight="normal" fill="#4d4d4d" >HER2neg</text>
<text x="176.3" y="410.8" font-size="6" text-anchor="middle" font-weight="normal" fill="#4d4d4d" >HER2pos</text>
<path d="M231.9 306V402.8H295.9" fill="none" stroke="#555" stroke-width="0.5"/>
<line x1="230.7" y1="399.3" x2="231.9" y2="399.3" stroke="#555" stroke-width="0.4" />
<text x="229.7" y="401.7" font-size="5.8" text-anchor="end" font-weight="normal" fill="#4d4d4d" >0.00</text>
<line x1="230.7" y1="380.8" x2="231.9" y2="380.8" stroke="#555" stroke-width="0.4" />
<text x="229.7" y="383.2" font-size="5.8" text-anchor="end" font-weight="normal" fill="#4d4d4d" >0.25</text>
<line x1="230.7" y1="362.3" x2="231.9" y2="362.3" stroke="#555" stroke-width="0.4" />
<text x="229.7" y="364.7" font-size="5.8" text-anchor="end" font-weight="normal" fill="#4d4d4d" >0.50</text>
<line x1="230.7" y1="343.8" x2="231.9" y2="343.8" stroke="#555" stroke-width="0.4" />
<text x="229.7" y="346.2" font-size="5.8" text-anchor="end" font-weight="normal" fill="#4d4d4d" >0.75</text>
<line x1="230.7" y1="325.3" x2="231.9" y2="325.3" stroke="#555" stroke-width="0.4" />
<text x="229.7" y="327.7" font-size="5.8" text-anchor="end" font-weight="normal" fill="#4d4d4d" >1.00</text>
<text x="216.7" y="353.9" font-size="6.7" text-anchor="middle" font-weight="normal" fill="#000" transform="rotate(-90 216.7 353.9)" >Dependency on KMT2D</text>
<line x1="244.5" y1="343.5" x2="244.5" y2="398.2" stroke="#333" stroke-width="0.7" />
<rect x="236.2" y="359" width="15.5" height="30.3" fill="#0d8a60" stroke="#333" stroke-width="0.45" />
<line x1="236.2" y1="378.2" x2="251.7" y2="378.2" stroke="#222" stroke-width="1.05" />
<line x1="264.5" y1="326.3" x2="264.5" y2="330.3" stroke="#333" stroke-width="0.7" />
<rect x="256.5" y="326.9" width="15.7" height="3" fill="#3a6ea5" stroke="#2a4f78" stroke-width="0.45" />
<line x1="256.5" y1="328" x2="272.2" y2="328" stroke="#222" stroke-width="1.05" />
<circle cx="264.5" cy="345.4" r="1" fill="#111"/>
<line x1="285.5" y1="327.6" x2="285.5" y2="372.5" stroke="#333" stroke-width="0.7" />
<rect x="277.2" y="329.2" width="15.5" height="19.6" fill="#ffb000" stroke="#333" stroke-width="0.45" />
<line x1="277.2" y1="334.6" x2="292.7" y2="334.6" stroke="#222" stroke-width="1.05" />
<line x1="244" y1="402.8" x2="244" y2="404" stroke="#555" stroke-width="0.4" />
<line x1="264.5" y1="402.8" x2="264.5" y2="404" stroke="#555" stroke-width="0.4" />
<line x1="285" y1="402.8" x2="285" y2="404" stroke="#555" stroke-width="0.4" />
<text x="244" y="410.3" font-size="6" text-anchor="middle" font-weight="normal" fill="#4d4d4d" >basal</text>
<text x="264.5" y="410.3" font-size="6" text-anchor="middle" font-weight="normal" fill="#4d4d4d" >HER2+</text>
<text x="285" y="410.3" font-size="6" text-anchor="middle" font-weight="normal" fill="#4d4d4d" >luminal</text>
<path d="M243.5 315.6V313.5H285.5V315.6" fill="none" stroke="#333" stroke-width="0.6"/>
<text x="264.5" y="312.5" font-size="4.7" text-anchor="middle" font-weight="normal" fill="#000" >5.9e-05</text>
<path d="M243.5 324V322.5H264.5V324" fill="none" stroke="#333" stroke-width="0.6"/>
<text x="253.8" y="321.5" font-size="4.7" text-anchor="middle" font-weight="normal" fill="#000" >2.6e-06</text>
<g transform="translate(0 0.4)">
<path d="M30.8 420V518.3H96" fill="none" stroke="#555" stroke-width="0.5"/>
<line x1="29.6" y1="513.7" x2="30.8" y2="513.7" stroke="#555" stroke-width="0.4" />
<text x="28.6" y="516.1" font-size="5.8" text-anchor="end" font-weight="normal" fill="#4d4d4d" >0.00</text>
<line x1="29.6" y1="492.6" x2="30.8" y2="492.6" stroke="#555" stroke-width="0.4" />
<text x="28.6" y="495" font-size="5.8" text-anchor="end" font-weight="normal" fill="#4d4d4d" >0.25</text>
<line x1="29.6" y1="471.5" x2="30.8" y2="471.5" stroke="#555" stroke-width="0.4" />
<text x="28.6" y="473.9" font-size="5.8" text-anchor="end" font-weight="normal" fill="#4d4d4d" >0.50</text>
<line x1="29.6" y1="450.4" x2="30.8" y2="450.4" stroke="#555" stroke-width="0.4" />
<text x="28.6" y="452.8" font-size="5.8" text-anchor="end" font-weight="normal" fill="#4d4d4d" >0.75</text>
<line x1="29.6" y1="429.3" x2="30.8" y2="429.3" stroke="#555" stroke-width="0.4" />
<text x="28.6" y="431.7" font-size="5.8" text-anchor="end" font-weight="normal" fill="#4d4d4d" >1.00</text>
<text x="15" y="469.5" font-size="6.7" text-anchor="middle" font-weight="normal" fill="#000" transform="rotate(-90 15 469.5)" >Dependency on KMT2C</text>
<text x="59.6" y="425.1" font-size="4.6" text-anchor="middle" font-weight="normal" fill="#000" >Wilcoxon, p = 0.72</text>
<line x1="48.5" y1="501" x2="48.5" y2="513.5" stroke="#333" stroke-width="0.7" />
<rect x="37.7" y="506.8" width="22" height="6.5" fill="#4d4d4d" stroke="#333" stroke-width="0.45" />
<line x1="37.7" y1="511.9" x2="59.7" y2="511.9" stroke="#222" stroke-width="1.05" />
<circle cx="48.6" cy="465.6" r="1" fill="#111"/>
<circle cx="48.6" cy="470.5" r="1" fill="#111"/>
<circle cx="48.6" cy="487.6" r="1" fill="#111"/>
<circle cx="48.6" cy="495.9" r="1" fill="#111"/>
<line x1="78.5" y1="506.3" x2="78.5" y2="513.6" stroke="#333" stroke-width="0.7" />
<rect x="67.1" y="507.9" width="22.4" height="5.4" fill="#ffa500" stroke="#333" stroke-width="0.45" />
<line x1="67.1" y1="510.9" x2="89.5" y2="510.9" stroke="#222" stroke-width="1.05" />
<circle cx="78.2" cy="472.1" r="1" fill="#111"/>
<circle cx="78.2" cy="498.9" r="1" fill="#111"/>
<line x1="48.6" y1="518.3" x2="48.6" y2="519.5" stroke="#555" stroke-width="0.4" />
<line x1="78.2" y1="518.3" x2="78.2" y2="519.5" stroke="#555" stroke-width="0.4" />
<text x="48.6" y="524.7" font-size="6" text-anchor="middle" font-weight="normal" fill="#4d4d4d" >ERneg</text>
<text x="78.2" y="524.7" font-size="6" text-anchor="middle" font-weight="normal" fill="#4d4d4d" >ERpos</text>
<path d="M129 420.7V518.3H194.5" fill="none" stroke="#555" stroke-width="0.5"/>
<line x1="127.8" y1="513.7" x2="129" y2="513.7" stroke="#555" stroke-width="0.4" />
<text x="126.8" y="516.1" font-size="5.8" text-anchor="end" font-weight="normal" fill="#4d4d4d" >0.00</text>
<line x1="127.8" y1="492.6" x2="129" y2="492.6" stroke="#555" stroke-width="0.4" />
<text x="126.8" y="495" font-size="5.8" text-anchor="end" font-weight="normal" fill="#4d4d4d" >0.25</text>
<line x1="127.8" y1="471.5" x2="129" y2="471.5" stroke="#555" stroke-width="0.4" />
<text x="126.8" y="473.9" font-size="5.8" text-anchor="end" font-weight="normal" fill="#4d4d4d" >0.50</text>
<line x1="127.8" y1="450.4" x2="129" y2="450.4" stroke="#555" stroke-width="0.4" />
<text x="126.8" y="452.8" font-size="5.8" text-anchor="end" font-weight="normal" fill="#4d4d4d" >0.75</text>
<line x1="127.8" y1="429.3" x2="129" y2="429.3" stroke="#555" stroke-width="0.4" />
<text x="126.8" y="431.7" font-size="5.8" text-anchor="end" font-weight="normal" fill="#4d4d4d" >1.00</text>
<text x="113" y="469.5" font-size="6.7" text-anchor="middle" font-weight="normal" fill="#000" transform="rotate(-90 113 469.5)" >Dependency on KMT2D</text>
<text x="157.7" y="425.1" font-size="4.6" text-anchor="middle" font-weight="normal" fill="#000" >Wilcoxon, p = 0.16</text>
<line x1="146.5" y1="505.6" x2="146.5" y2="513.6" stroke="#333" stroke-width="0.7" />
<rect x="135" y="509.8" width="22.9" height="3.5" fill="#4d4d4d" stroke="#333" stroke-width="0.45" />
<line x1="135" y1="511.8" x2="157.9" y2="511.8" stroke="#222" stroke-width="1.05" />
<circle cx="146.4" cy="470.5" r="1" fill="#111"/>
<circle cx="146.4" cy="472.5" r="1" fill="#111"/>
<circle cx="146.4" cy="487.6" r="1" fill="#111"/>
<circle cx="146.4" cy="495.9" r="1" fill="#111"/>
<circle cx="146.4" cy="501" r="1" fill="#111"/>
<circle cx="146.4" cy="503.3" r="1" fill="#111"/>
<line x1="176.5" y1="498.7" x2="176.5" y2="513.5" stroke="#333" stroke-width="0.7" />
<rect x="165.1" y="499.8" width="22.4" height="12.8" fill="#56b4e9" stroke="#333" stroke-width="0.45" />
<line x1="165.1" y1="509.6" x2="187.5" y2="509.6" stroke="#222" stroke-width="1.05" />
<circle cx="176.2" cy="465.6" r="1" fill="#111"/>
<line x1="146.4" y1="518.3" x2="146.4" y2="519.5" stroke="#555" stroke-width="0.4" />
<line x1="176.2" y1="518.3" x2="176.2" y2="519.5" stroke="#555" stroke-width="0.4" />
<text x="146.4" y="524.7" font-size="6" text-anchor="middle" font-weight="normal" fill="#4d4d4d" >HER2neg</text>
<text x="176.2" y="524.7" font-size="6" text-anchor="middle" font-weight="normal" fill="#4d4d4d" >HER2pos</text>
<path d="M230.4 420.7V518.3H295" fill="none" stroke="#555" stroke-width="0.5"/>
<line x1="229.2" y1="513.7" x2="230.4" y2="513.7" stroke="#555" stroke-width="0.4" />
<text x="228.2" y="516.1" font-size="5.8" text-anchor="end" font-weight="normal" fill="#4d4d4d" >0.00</text>
<line x1="229.2" y1="495.2" x2="230.4" y2="495.2" stroke="#555" stroke-width="0.4" />
<text x="228.2" y="497.6" font-size="5.8" text-anchor="end" font-weight="normal" fill="#4d4d4d" >0.25</text>
<line x1="229.2" y1="476.7" x2="230.4" y2="476.7" stroke="#555" stroke-width="0.4" />
<text x="228.2" y="479.1" font-size="5.8" text-anchor="end" font-weight="normal" fill="#4d4d4d" >0.50</text>
<line x1="229.2" y1="458.2" x2="230.4" y2="458.2" stroke="#555" stroke-width="0.4" />
<text x="228.2" y="460.6" font-size="5.8" text-anchor="end" font-weight="normal" fill="#4d4d4d" >0.75</text>
<line x1="229.2" y1="439.7" x2="230.4" y2="439.7" stroke="#555" stroke-width="0.4" />
<text x="228.2" y="442.1" font-size="5.8" text-anchor="end" font-weight="normal" fill="#4d4d4d" >1.00</text>
<text x="214.6" y="469.2" font-size="6.7" text-anchor="middle" font-weight="normal" fill="#000" transform="rotate(-90 214.6 469.2)" >Dependency on KMT2C</text>
<line x1="242.5" y1="511" x2="242.5" y2="513.7" stroke="#333" stroke-width="0.7" />
<rect x="234.3" y="511.6" width="16.2" height="2.1" fill="#1f5a4a" stroke="#1f3f38" stroke-width="0.45" />
<line x1="234.3" y1="512.8" x2="250.5" y2="512.8" stroke="#222" stroke-width="1.05" />
<circle cx="242.7" cy="498" r="1" fill="#111"/>
<circle cx="242.7" cy="503.3" r="1" fill="#111"/>
<circle cx="242.7" cy="505" r="1" fill="#111"/>
<line x1="263.5" y1="471.6" x2="263.5" y2="513.3" stroke="#333" stroke-width="0.7" />
<rect x="255.1" y="487.8" width="15.8" height="22.7" fill="#56b4e9" stroke="#333" stroke-width="0.45" />
<line x1="255.1" y1="502.2" x2="270.9" y2="502.2" stroke="#222" stroke-width="1.05" />
<line x1="283.5" y1="506.3" x2="283.5" y2="513.6" stroke="#333" stroke-width="0.7" />
<rect x="275.5" y="507.9" width="15.5" height="5.1" fill="#ffb000" stroke="#333" stroke-width="0.45" />
<line x1="275.5" y1="510.7" x2="291" y2="510.7" stroke="#222" stroke-width="1.05" />
<circle cx="283.2" cy="477.4" r="1" fill="#111"/>
<circle cx="283.2" cy="490.8" r="1" fill="#111"/>
<line x1="242.7" y1="518.3" x2="242.7" y2="519.5" stroke="#555" stroke-width="0.4" />
<line x1="263" y1="518.3" x2="263" y2="519.5" stroke="#555" stroke-width="0.4" />
<line x1="283.2" y1="518.3" x2="283.2" y2="519.5" stroke="#555" stroke-width="0.4" />
<text x="242.7" y="524.7" font-size="6" text-anchor="middle" font-weight="normal" fill="#4d4d4d" >basal</text>
<text x="263" y="524.7" font-size="6" text-anchor="middle" font-weight="normal" fill="#4d4d4d" >HER2+</text>
<text x="283.2" y="524.7" font-size="6" text-anchor="middle" font-weight="normal" fill="#4d4d4d" >luminal</text>
<path d="M242.5 466.1V464.5H283.5V466.1" fill="none" stroke="#333" stroke-width="0.6"/>
<text x="262.5" y="463.5" font-size="4.7" text-anchor="middle" font-weight="normal" fill="#000" >0.13</text>
<path d="M242.5 471.1V469.5H263.5V471.1" fill="none" stroke="#333" stroke-width="0.6"/>
<text x="252.4" y="468.5" font-size="4.7" text-anchor="middle" font-weight="normal" fill="#000" >0.028</text>
</g>
<rect x="373.1" y="313.2" width="53.1" height="8.7" fill="#fbfbfb" stroke="#333" stroke-width="0.6" />
<rect x="428.4" y="313.2" width="53.6" height="8.7" fill="#fbfbfb" stroke="#333" stroke-width="0.6" />
<text x="399.65" y="319.5" font-size="5.2" text-anchor="middle" font-weight="bold" fill="#222" >KMT2C dependency</text>
<text x="455.2" y="319.5" font-size="5.2" text-anchor="middle" font-weight="bold" fill="#222" >KMT2D dependency</text>
<line x1="400.5" y1="322.5" x2="400.5" y2="510.4" stroke="#a8a8a8" stroke-width="0.5" stroke-dasharray="1.8 2.75"/>
<line x1="452.2" y1="322.5" x2="452.2" y2="510.4" stroke="#a8a8a8" stroke-width="0.5" stroke-dasharray="1.8 2.75"/>
<text x="370.5" y="336.9" font-size="5.75" text-anchor="end" font-weight="bold" fill="#444" >KMT2C_mut</text>
<text x="370.5" y="364.2" font-size="5.75" text-anchor="end" font-weight="bold" fill="#444" >KMT2C copy num</text>
<text x="370.5" y="391.1" font-size="5.75" text-anchor="end" font-weight="bold" fill="#444" >KMT2C expression</text>
<text x="370.5" y="445.9" font-size="5.75" text-anchor="end" font-weight="bold" fill="#444" >KMT2D mut</text>
<text x="370.5" y="473.4" font-size="5.75" text-anchor="end" font-weight="bold" fill="#444" >KMT2D copy num</text>
<text x="370.5" y="500.2" font-size="5.75" text-anchor="end" font-weight="bold" fill="#444" >KMT2D expression</text>
<rect x="400.2" y="328.7" width="3.2" height="3.2" fill="#0a4fd0" />
<line x1="395.4" y1="338.3" x2="408.4" y2="338.3" stroke="#f9a8bf" stroke-width="0.6" stroke-opacity="0.75"/>
<rect x="400.2" y="336.7" width="3.2" height="3.2" fill="#f9a8bf" />
<rect x="399.5" y="356" width="3.2" height="3.2" fill="#86c6df" />
<line x1="389.3" y1="366.1" x2="410.7" y2="366.1" stroke="#f9a8bf" stroke-width="0.6" stroke-opacity="0.75"/>
<rect x="398.4" y="364.5" width="3.2" height="3.2" fill="#f9a8bf" />
<rect x="398.8" y="383.4" width="3.2" height="3.2" fill="#86c6df" />
<line x1="398.4" y1="393" x2="404.5" y2="393" stroke="#f9a8bf" stroke-width="0.6" stroke-opacity="0.75"/>
<rect x="400" y="391.4" width="3.2" height="3.2" fill="#f9a8bf" />
<rect x="399.1" y="438.1" width="3.2" height="3.2" fill="#86c6df" />
<line x1="395.6" y1="447.3" x2="407.2" y2="447.3" stroke="#f9a8bf" stroke-width="0.6" stroke-opacity="0.75"/>
<rect x="399.8" y="445.7" width="3.2" height="3.2" fill="#f9a8bf" />
<line x1="397.2" y1="466.8" x2="401.2" y2="466.8" stroke="#86c6df" stroke-width="0.6" stroke-opacity="0.75"/>
<rect x="397.5" y="465.2" width="3.2" height="3.2" fill="#86c6df" />
<line x1="375.2" y1="474.9" x2="423.4" y2="474.9" stroke="#f9a8bf" stroke-width="0.6" stroke-opacity="0.75"/>
<rect x="397.9" y="473.3" width="3.2" height="3.2" fill="#f9a8bf" />
<rect x="398.6" y="492.4" width="3.2" height="3.2" fill="#86c6df" />
<rect x="398.6" y="500.6" width="3.2" height="3.2" fill="#f9a8bf" />
<rect x="452.8" y="328.7" width="3.2" height="3.2" fill="#0a4fd0" />
<line x1="446.2" y1="338.3" x2="462.1" y2="338.3" stroke="#f9a8bf" stroke-width="0.6" stroke-opacity="0.75"/>
<rect x="452.1" y="336.7" width="3.2" height="3.2" fill="#f9a8bf" />
<line x1="445" y1="357.6" x2="452" y2="357.6" stroke="#86c6df" stroke-width="0.6" stroke-opacity="0.75"/>
<rect x="446.9" y="356" width="3.2" height="3.2" fill="#86c6df" />
<line x1="434.8" y1="366.1" x2="459.9" y2="366.1" stroke="#f9a8bf" stroke-width="0.6" stroke-opacity="0.75"/>
<rect x="445.7" y="364.5" width="3.2" height="3.2" fill="#f9a8bf" />
<rect x="449.8" y="383.4" width="3.2" height="3.2" fill="#86c6df" />
<line x1="450.8" y1="393" x2="457.6" y2="393" stroke="#f9a8bf" stroke-width="0.6" stroke-opacity="0.75"/>
<rect x="452.1" y="391.4" width="3.2" height="3.2" fill="#f9a8bf" />
<rect x="449" y="437.7" width="3.2" height="3.2" fill="#0a4fd0" />
<line x1="438.8" y1="447.6" x2="450" y2="447.6" stroke="#c8008c" stroke-width="0.6" stroke-opacity="0.75"/>
<rect x="442.9" y="446" width="3.2" height="3.2" fill="#c8008c" />
<line x1="460" y1="466.6" x2="470.9" y2="466.6" stroke="#0a4fd0" stroke-width="0.6" stroke-opacity="0.75"/>
<rect x="463.5" y="465" width="3.2" height="3.2" fill="#0a4fd0" />
<line x1="431.3" y1="474.9" x2="479.4" y2="474.9" stroke="#f9a8bf" stroke-width="0.6" stroke-opacity="0.75"/>
<rect x="453.4" y="473.3" width="3.2" height="3.2" fill="#f9a8bf" />
<rect x="450.5" y="492.6" width="3.2" height="3.2" fill="#86c6df" />
<rect x="452.2" y="500.6" width="3.2" height="3.2" fill="#f9a8bf" />
<line x1="373.2" y1="510.7" x2="425.7" y2="510.7" stroke="#333" stroke-width="0.7" />
<line x1="428.8" y1="510.7" x2="481.4" y2="510.7" stroke="#333" stroke-width="0.7" />
<line x1="375.5" y1="510.7" x2="375.5" y2="511.7" stroke="#333" stroke-width="0.4" />
<text x="375.5" y="516" font-size="4.6" text-anchor="middle" font-weight="normal" fill="#4d4d4d" >-6</text>
<line x1="388" y1="510.7" x2="388" y2="511.7" stroke="#333" stroke-width="0.4" />
<text x="388" y="516" font-size="4.6" text-anchor="middle" font-weight="normal" fill="#4d4d4d" >-3</text>
<line x1="400.2" y1="510.7" x2="400.2" y2="511.7" stroke="#333" stroke-width="0.4" />
<text x="400.2" y="516" font-size="4.6" text-anchor="middle" font-weight="normal" fill="#4d4d4d" >0</text>
<line x1="412.5" y1="510.7" x2="412.5" y2="511.7" stroke="#333" stroke-width="0.4" />
<text x="412.5" y="516" font-size="4.6" text-anchor="middle" font-weight="normal" fill="#4d4d4d" >3</text>
<line x1="424.5" y1="510.7" x2="424.5" y2="511.7" stroke="#333" stroke-width="0.4" />
<text x="424.5" y="516" font-size="4.6" text-anchor="middle" font-weight="normal" fill="#4d4d4d" >6</text>
<line x1="438" y1="510.7" x2="438" y2="511.7" stroke="#333" stroke-width="0.4" />
<text x="438" y="516" font-size="4.6" text-anchor="middle" font-weight="normal" fill="#4d4d4d" >-0.4</text>
<line x1="452.1" y1="510.7" x2="452.1" y2="511.7" stroke="#333" stroke-width="0.4" />
<text x="452.1" y="516" font-size="4.6" text-anchor="middle" font-weight="normal" fill="#4d4d4d" >0.0</text>
<line x1="465.9" y1="510.7" x2="465.9" y2="511.7" stroke="#333" stroke-width="0.4" />
<text x="465.9" y="516" font-size="4.6" text-anchor="middle" font-weight="normal" fill="#4d4d4d" >0.4</text>
<line x1="479.4" y1="510.7" x2="479.4" y2="511.7" stroke="#333" stroke-width="0.4" />
<text x="479.4" y="516" font-size="4.6" text-anchor="middle" font-weight="normal" fill="#4d4d4d" >0.8</text>
<text x="426.9" y="522.1" font-size="5.2" text-anchor="middle" font-weight="bold" fill="#222" >Coefficient estimate</text>
<text x="457.6" y="405.4" font-size="5.9" text-anchor="start" font-weight="normal" fill="#111" >Cohort (coefficient significance)</text>
<rect x="460.8" y="412.2" width="3.6" height="3.6" fill="#f9a8bf" rx="0.6"/>
<text x="470.1" y="415.7" font-size="4.9" text-anchor="start" font-weight="normal" fill="#222" >BRCA</text>
<line x1="459" y1="424.1" x2="466.2" y2="424.1" stroke="#c8008c" stroke-width="0.9" />
<rect x="460.8" y="422.3" width="3.6" height="3.6" fill="#c8008c" rx="0.6"/>
<text x="470.1" y="425.8" font-size="4.9" text-anchor="start" font-weight="normal" fill="#222" >BRCA (p &lt; 0.05)</text>
<rect x="460.8" y="432" width="3.6" height="3.6" fill="#86c6df" rx="0.6"/>
<text x="470.1" y="435.5" font-size="4.9" text-anchor="start" font-weight="normal" fill="#222" >pancancer</text>
<line x1="459" y1="443.4" x2="466.2" y2="443.4" stroke="#0a4fd0" stroke-width="0.9" />
<rect x="460.8" y="441.6" width="3.6" height="3.6" fill="#0a4fd0" rx="0.6"/>
<text x="470.1" y="445.1" font-size="4.9" text-anchor="start" font-weight="normal" fill="#222" >pancancer (p &lt; 0.05)</text>
<path d="M566.63 354.63C567.19 356.15 568.71 361.27 570.04 363.74C571.37 366.2 572.7 367.84 574.59 369.43C576.49 371.02 579.15 372.54 581.42 373.3C583.7 374.06 585.97 374.44 588.25 373.98C590.53 373.53 592.8 372.08 595.08 370.57C597.36 369.05 599.63 366.96 601.91 364.88C604.19 362.79 606.46 360.32 608.74 358.05C611.01 355.77 613.29 353 615.57 351.22C617.84 349.43 620.69 348.11 622.4 347.35C624.1 346.59 624.48 346.4 625.81 346.67C627.14 346.93 628.66 347.92 630.36 348.94C632.07 349.97 633.97 352.43 636.05 352.81C638.14 353.19 640.61 352.24 642.88 351.22C645.16 350.19 647.44 348.18 649.71 346.67C651.99 345.15 654.26 343.25 656.54 342.11C658.82 340.97 661.28 340.78 663.37 339.84C665.46 338.89 667.35 338.51 669.06 336.42C670.77 334.33 672.17 330.54 673.61 327.32C675.06 324.09 677.03 318.78 677.71 317.07 L677.71 358.05C677.03 358.62 675.06 359.94 673.61 361.46C672.17 362.98 670.77 365.07 669.06 367.15C667.35 369.24 665.46 371.7 663.37 373.98C661.28 376.26 658.82 378.91 656.54 380.81C654.26 382.71 651.99 384.22 649.71 385.36C647.44 386.5 644.97 387.26 642.88 387.64C640.8 388.02 639.09 387.83 637.19 387.64C635.3 387.45 633.4 386.77 631.5 386.5C629.6 386.24 627.71 385.48 625.81 386.05C623.91 386.62 622.21 388.32 620.12 389.92C618.03 391.51 615.57 393.52 613.29 395.61C611.01 397.69 608.74 400.35 606.46 402.44C604.19 404.52 601.91 406.8 599.63 408.13C597.36 409.45 595.08 410.1 592.8 410.4C590.53 410.71 588.25 410.33 585.97 409.95C583.7 409.57 581.42 408.62 579.15 408.13C576.87 407.63 574.4 406.61 572.32 406.99C570.23 407.37 567.57 409.83 566.63 410.4 Z" fill="#cfcfcf"/>
<path d="M566.63 382.63C567.57 383.47 570.23 386.24 572.32 387.64C574.4 389.04 576.68 390.26 579.15 391.05C581.61 391.85 584.84 392.27 587.11 392.42C589.39 392.57 590.72 392.57 592.8 391.96C594.89 391.36 597.36 390.26 599.63 388.78C601.91 387.3 604.19 385.17 606.46 383.09C608.74 381 611.01 378.53 613.29 376.26C615.57 373.98 618.03 371.1 620.12 369.43C622.21 367.76 623.91 366.55 625.81 366.24C627.71 365.94 629.6 367.04 631.5 367.61C633.4 368.18 635.3 369.43 637.19 369.66C639.09 369.88 640.8 369.66 642.88 368.97C644.97 368.29 647.44 366.89 649.71 365.56C651.99 364.23 654.26 362.64 656.54 361.01C658.82 359.37 661.09 357.9 663.37 355.77C665.65 353.65 668.3 350.53 670.2 348.26C672.1 345.98 673.5 343.78 674.75 342.11C676 340.44 677.22 338.89 677.71 338.24" fill="none" stroke="#3366ff" stroke-width="1.25"/>
<circle cx="566.63" cy="362.14" r="1.35" fill="#111"/>
<circle cx="567.08" cy="382.63" r="1.35" fill="#111"/>
<circle cx="570.72" cy="382.63" r="1.35" fill="#111"/>
<circle cx="576.87" cy="374.21" r="1.35" fill="#111"/>
<circle cx="578.69" cy="397.43" r="1.35" fill="#111"/>
<circle cx="587.34" cy="371.25" r="1.35" fill="#111"/>
<circle cx="588.93" cy="371.93" r="1.35" fill="#111"/>
<circle cx="592.8" cy="391.51" r="1.35" fill="#111"/>
<circle cx="598.72" cy="389.69" r="1.35" fill="#111"/>
<circle cx="624.9" cy="366.01" r="1.35" fill="#111"/>
<circle cx="626.27" cy="362.6" r="1.35" fill="#111"/>
<circle cx="626.95" cy="361.46" r="1.35" fill="#111"/>
<circle cx="632.18" cy="369.66" r="1.35" fill="#111"/>
<circle cx="633.32" cy="351.22" r="1.35" fill="#111"/>
<circle cx="635.14" cy="371.93" r="1.35" fill="#111"/>
<circle cx="644.48" cy="381.04" r="1.35" fill="#111"/>
<circle cx="647.44" cy="363.05" r="1.35" fill="#111"/>
<circle cx="650.85" cy="380.36" r="1.35" fill="#111"/>
<circle cx="658.59" cy="385.14" r="1.35" fill="#111"/>
<circle cx="664.05" cy="328.23" r="1.35" fill="#111"/>
<circle cx="667.24" cy="345.53" r="1.35" fill="#111"/>
<circle cx="671.34" cy="332.55" r="1.35" fill="#111"/>
<circle cx="672.02" cy="333.46" r="1.35" fill="#111"/>
<circle cx="673.84" cy="332.1" r="1.35" fill="#111"/>
<circle cx="674.75" cy="325.5" r="1.35" fill="#111"/>
<circle cx="676.57" cy="328.45" r="1.35" fill="#111"/>
<circle cx="672.48" cy="346.67" r="1.35" fill="#111"/>
<circle cx="674.3" cy="350.53" r="1.35" fill="#111"/>
<circle cx="675.43" cy="359.64" r="1.35" fill="#111"/>
<circle cx="677.71" cy="374.21" r="1.35" fill="#111"/>
<circle cx="584.7" cy="493.1" r="1.35" fill="#111"/>
<path d="M560.9 308V501.9H684" fill="none" stroke="#555" stroke-width="1"/>
<line x1="559" y1="323.4" x2="560.4" y2="323.4" stroke="#555" stroke-width="0.5" />
<text x="558" y="325.45" font-size="5.9" text-anchor="end" font-weight="normal" fill="#4d4d4d" >1</text>
<line x1="559" y1="366.5" x2="560.4" y2="366.5" stroke="#555" stroke-width="0.5" />
<text x="558" y="368.55" font-size="5.9" text-anchor="end" font-weight="normal" fill="#4d4d4d" >0</text>
<line x1="559" y1="408.8" x2="560.4" y2="408.8" stroke="#555" stroke-width="0.5" />
<text x="558" y="410.85" font-size="5.9" text-anchor="end" font-weight="normal" fill="#4d4d4d" >-1</text>
<line x1="559" y1="451.5" x2="560.4" y2="451.5" stroke="#555" stroke-width="0.5" />
<text x="558" y="453.55" font-size="5.9" text-anchor="end" font-weight="normal" fill="#4d4d4d" >-2</text>
<line x1="559" y1="494.2" x2="560.4" y2="494.2" stroke="#555" stroke-width="0.5" />
<text x="558" y="496.25" font-size="5.9" text-anchor="end" font-weight="normal" fill="#4d4d4d" >-3</text>
<line x1="564.8" y1="502.4" x2="564.8" y2="503.8" stroke="#555" stroke-width="0.5" />
<text x="564.8" y="509.4" font-size="5.9" text-anchor="middle" font-weight="normal" fill="#4d4d4d" >0.00</text>
<line x1="593.2" y1="502.4" x2="593.2" y2="503.8" stroke="#555" stroke-width="0.5" />
<text x="593.2" y="509.4" font-size="5.9" text-anchor="middle" font-weight="normal" fill="#4d4d4d" >0.25</text>
<line x1="622" y1="502.4" x2="622" y2="503.8" stroke="#555" stroke-width="0.5" />
<text x="622" y="509.4" font-size="5.9" text-anchor="middle" font-weight="normal" fill="#4d4d4d" >0.50</text>
<line x1="650.5" y1="502.4" x2="650.5" y2="503.8" stroke="#555" stroke-width="0.5" />
<text x="650.5" y="509.4" font-size="5.9" text-anchor="middle" font-weight="normal" fill="#4d4d4d" >0.75</text>
<line x1="678.9" y1="502.4" x2="678.9" y2="503.8" stroke="#555" stroke-width="0.5" />
<text x="678.9" y="509.4" font-size="5.9" text-anchor="middle" font-weight="normal" fill="#4d4d4d" >1.00</text>
<text x="622" y="517.6" font-size="7.6" text-anchor="middle" font-weight="normal" fill="#111" >KMT2D dependency</text>
<text x="549.7" y="404.5" font-size="7.6" text-anchor="middle" font-weight="normal" fill="#111" transform="rotate(-90 549.7 404.5)" >Global H3K4me1 levels</text>
<text x="622" y="445.9" font-size="6" text-anchor="middle" font-weight="normal" fill="#000" >cor = 0.596</text>
<text x="622" y="458.7" font-size="6" text-anchor="middle" font-weight="normal" fill="#000" >p = 0.0004</text>
</svg>
</body></html>
